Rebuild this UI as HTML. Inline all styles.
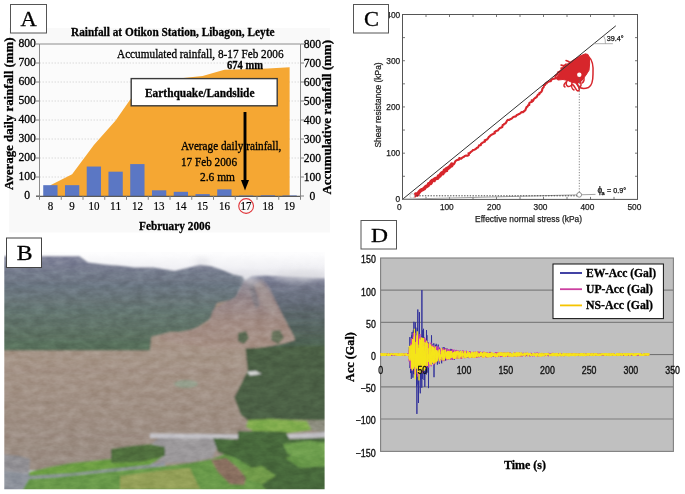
<!DOCTYPE html>
<html><head><meta charset="utf-8"><title>Figure</title>
<style>html,body{margin:0;padding:0;background:#fff;overflow:hidden} svg{display:block}</style>
</head><body>
<svg width="685" height="494" viewBox="0 0 685 494"><rect x="9" y="28" width="321" height="204.5" fill="#f9f9f9"/>
<rect x="39.5" y="44.0" width="261.0" height="152.0" fill="#fbfbfb"/>
<line x1="39.5" y1="177.00" x2="300.5" y2="177.00" stroke="#dadada" stroke-width="1" stroke-dasharray="1.5 1.5"/>
<line x1="39.5" y1="158.00" x2="300.5" y2="158.00" stroke="#dadada" stroke-width="1" stroke-dasharray="1.5 1.5"/>
<line x1="39.5" y1="139.00" x2="300.5" y2="139.00" stroke="#dadada" stroke-width="1" stroke-dasharray="1.5 1.5"/>
<line x1="39.5" y1="120.00" x2="300.5" y2="120.00" stroke="#dadada" stroke-width="1" stroke-dasharray="1.5 1.5"/>
<line x1="39.5" y1="101.00" x2="300.5" y2="101.00" stroke="#dadada" stroke-width="1" stroke-dasharray="1.5 1.5"/>
<line x1="39.5" y1="82.00" x2="300.5" y2="82.00" stroke="#dadada" stroke-width="1" stroke-dasharray="1.5 1.5"/>
<line x1="39.5" y1="63.00" x2="300.5" y2="63.00" stroke="#dadada" stroke-width="1" stroke-dasharray="1.5 1.5"/>
<path d="M50.38,196.0 L50.38,185.17 L72.12,174.34 L93.88,144.89 L115.62,120.57 L137.38,89.22 L159.12,82.57 L180.88,78.20 L202.62,75.92 L224.38,69.84 L246.12,69.27 L267.88,68.51 L289.62,67.18 L289.62,196.0 Z" fill="#f5a733"/>
<rect x="43.23" y="185.17" width="14.3" height="10.83" fill="#5b77c4"/>
<rect x="64.97" y="185.17" width="14.3" height="10.83" fill="#5b77c4"/>
<rect x="86.72" y="166.55" width="14.3" height="29.45" fill="#5b77c4"/>
<rect x="108.47" y="171.68" width="14.3" height="24.32" fill="#5b77c4"/>
<rect x="130.22" y="164.08" width="14.3" height="31.92" fill="#5b77c4"/>
<rect x="151.97" y="190.30" width="14.3" height="5.70" fill="#5b77c4"/>
<rect x="173.72" y="191.82" width="14.3" height="4.18" fill="#5b77c4"/>
<rect x="195.47" y="194.10" width="14.3" height="1.90" fill="#5b77c4"/>
<rect x="217.22" y="189.35" width="14.3" height="6.65" fill="#5b77c4"/>
<rect x="238.97" y="195.51" width="14.3" height="0.49" fill="#5b77c4"/>
<rect x="260.73" y="195.24" width="14.3" height="0.76" fill="#5b77c4"/>
<rect x="282.48" y="195.43" width="14.3" height="0.57" fill="#5b77c4"/>
<path d="M39.5,44.0 L300.5,44.0 M39.5,44.0 L39.5,196.5 M300.5,44.0 L300.5,196.5" stroke="#8c8c8c" stroke-width="1" fill="none"/>
<line x1="36.0" y1="196.3" x2="300.5" y2="196.3" stroke="#5a5a5a" stroke-width="1.3"/>
<path d="M36.0,196.00 L39.5,196.00 M300.5,196.00 L304.0,196.00 M36.0,177.00 L39.5,177.00 M300.5,177.00 L304.0,177.00 M36.0,158.00 L39.5,158.00 M300.5,158.00 L304.0,158.00 M36.0,139.00 L39.5,139.00 M300.5,139.00 L304.0,139.00 M36.0,120.00 L39.5,120.00 M300.5,120.00 L304.0,120.00 M36.0,101.00 L39.5,101.00 M300.5,101.00 L304.0,101.00 M36.0,82.00 L39.5,82.00 M300.5,82.00 L304.0,82.00 M36.0,63.00 L39.5,63.00 M300.5,63.00 L304.0,63.00 M36.0,44.00 L39.5,44.00 M300.5,44.00 L304.0,44.00 M39.50,196.0 L39.50,199.8 M61.25,196.0 L61.25,199.8 M83.00,196.0 L83.00,199.8 M104.75,196.0 L104.75,199.8 M126.50,196.0 L126.50,199.8 M148.25,196.0 L148.25,199.8 M170.00,196.0 L170.00,199.8 M191.75,196.0 L191.75,199.8 M213.50,196.0 L213.50,199.8 M235.25,196.0 L235.25,199.8 M257.00,196.0 L257.00,199.8 M278.75,196.0 L278.75,199.8 M300.50,196.0 L300.50,199.8 " stroke="#808080" stroke-width="1" fill="none"/>
<text x="27.20" y="199.20" font-family="'Liberation Serif','Times New Roman',serif" font-size="12" fill="#000" stroke="#000" stroke-width="0.3" text-anchor="middle" textLength="5.8" lengthAdjust="spacingAndGlyphs" >0</text>
<text x="312.40" y="199.50" font-family="'Liberation Serif','Times New Roman',serif" font-size="12" fill="#000" stroke="#000" stroke-width="0.3" text-anchor="middle" textLength="5.8" lengthAdjust="spacingAndGlyphs" >0</text>
<text x="27.20" y="180.20" font-family="'Liberation Serif','Times New Roman',serif" font-size="12" fill="#000" stroke="#000" stroke-width="0.3" text-anchor="middle" textLength="17.4" lengthAdjust="spacingAndGlyphs" >100</text>
<text x="312.40" y="180.50" font-family="'Liberation Serif','Times New Roman',serif" font-size="12" fill="#000" stroke="#000" stroke-width="0.3" text-anchor="middle" textLength="17.4" lengthAdjust="spacingAndGlyphs" >100</text>
<text x="27.20" y="161.20" font-family="'Liberation Serif','Times New Roman',serif" font-size="12" fill="#000" stroke="#000" stroke-width="0.3" text-anchor="middle" textLength="17.4" lengthAdjust="spacingAndGlyphs" >200</text>
<text x="312.40" y="161.50" font-family="'Liberation Serif','Times New Roman',serif" font-size="12" fill="#000" stroke="#000" stroke-width="0.3" text-anchor="middle" textLength="17.4" lengthAdjust="spacingAndGlyphs" >200</text>
<text x="27.20" y="142.20" font-family="'Liberation Serif','Times New Roman',serif" font-size="12" fill="#000" stroke="#000" stroke-width="0.3" text-anchor="middle" textLength="17.4" lengthAdjust="spacingAndGlyphs" >300</text>
<text x="312.40" y="142.50" font-family="'Liberation Serif','Times New Roman',serif" font-size="12" fill="#000" stroke="#000" stroke-width="0.3" text-anchor="middle" textLength="17.4" lengthAdjust="spacingAndGlyphs" >300</text>
<text x="27.20" y="123.20" font-family="'Liberation Serif','Times New Roman',serif" font-size="12" fill="#000" stroke="#000" stroke-width="0.3" text-anchor="middle" textLength="17.4" lengthAdjust="spacingAndGlyphs" >400</text>
<text x="312.40" y="123.50" font-family="'Liberation Serif','Times New Roman',serif" font-size="12" fill="#000" stroke="#000" stroke-width="0.3" text-anchor="middle" textLength="17.4" lengthAdjust="spacingAndGlyphs" >400</text>
<text x="27.20" y="104.20" font-family="'Liberation Serif','Times New Roman',serif" font-size="12" fill="#000" stroke="#000" stroke-width="0.3" text-anchor="middle" textLength="17.4" lengthAdjust="spacingAndGlyphs" >500</text>
<text x="312.40" y="104.50" font-family="'Liberation Serif','Times New Roman',serif" font-size="12" fill="#000" stroke="#000" stroke-width="0.3" text-anchor="middle" textLength="17.4" lengthAdjust="spacingAndGlyphs" >500</text>
<text x="27.20" y="85.20" font-family="'Liberation Serif','Times New Roman',serif" font-size="12" fill="#000" stroke="#000" stroke-width="0.3" text-anchor="middle" textLength="17.4" lengthAdjust="spacingAndGlyphs" >600</text>
<text x="312.40" y="85.50" font-family="'Liberation Serif','Times New Roman',serif" font-size="12" fill="#000" stroke="#000" stroke-width="0.3" text-anchor="middle" textLength="17.4" lengthAdjust="spacingAndGlyphs" >600</text>
<text x="27.20" y="66.20" font-family="'Liberation Serif','Times New Roman',serif" font-size="12" fill="#000" stroke="#000" stroke-width="0.3" text-anchor="middle" textLength="17.4" lengthAdjust="spacingAndGlyphs" >700</text>
<text x="312.40" y="66.50" font-family="'Liberation Serif','Times New Roman',serif" font-size="12" fill="#000" stroke="#000" stroke-width="0.3" text-anchor="middle" textLength="17.4" lengthAdjust="spacingAndGlyphs" >700</text>
<text x="27.20" y="47.20" font-family="'Liberation Serif','Times New Roman',serif" font-size="12" fill="#000" stroke="#000" stroke-width="0.3" text-anchor="middle" textLength="17.4" lengthAdjust="spacingAndGlyphs" >800</text>
<text x="312.40" y="47.50" font-family="'Liberation Serif','Times New Roman',serif" font-size="12" fill="#000" stroke="#000" stroke-width="0.3" text-anchor="middle" textLength="17.4" lengthAdjust="spacingAndGlyphs" >800</text>
<text x="50.38" y="209.60" font-family="'Liberation Serif','Times New Roman',serif" font-size="12.4" fill="#000" stroke="#000" stroke-width="0.2" text-anchor="middle" textLength="5.5" lengthAdjust="spacingAndGlyphs" >8</text>
<text x="72.12" y="209.60" font-family="'Liberation Serif','Times New Roman',serif" font-size="12.4" fill="#000" stroke="#000" stroke-width="0.2" text-anchor="middle" textLength="5.5" lengthAdjust="spacingAndGlyphs" >9</text>
<text x="93.88" y="209.60" font-family="'Liberation Serif','Times New Roman',serif" font-size="12.4" fill="#000" stroke="#000" stroke-width="0.2" text-anchor="middle" textLength="11.0" lengthAdjust="spacingAndGlyphs" >10</text>
<text x="115.62" y="209.60" font-family="'Liberation Serif','Times New Roman',serif" font-size="12.4" fill="#000" stroke="#000" stroke-width="0.2" text-anchor="middle" textLength="11.0" lengthAdjust="spacingAndGlyphs" >11</text>
<text x="137.38" y="209.60" font-family="'Liberation Serif','Times New Roman',serif" font-size="12.4" fill="#000" stroke="#000" stroke-width="0.2" text-anchor="middle" textLength="11.0" lengthAdjust="spacingAndGlyphs" >12</text>
<text x="159.12" y="209.60" font-family="'Liberation Serif','Times New Roman',serif" font-size="12.4" fill="#000" stroke="#000" stroke-width="0.2" text-anchor="middle" textLength="11.0" lengthAdjust="spacingAndGlyphs" >13</text>
<text x="180.88" y="209.60" font-family="'Liberation Serif','Times New Roman',serif" font-size="12.4" fill="#000" stroke="#000" stroke-width="0.2" text-anchor="middle" textLength="11.0" lengthAdjust="spacingAndGlyphs" >14</text>
<text x="202.62" y="209.60" font-family="'Liberation Serif','Times New Roman',serif" font-size="12.4" fill="#000" stroke="#000" stroke-width="0.2" text-anchor="middle" textLength="11.0" lengthAdjust="spacingAndGlyphs" >15</text>
<text x="224.38" y="209.60" font-family="'Liberation Serif','Times New Roman',serif" font-size="12.4" fill="#000" stroke="#000" stroke-width="0.2" text-anchor="middle" textLength="11.0" lengthAdjust="spacingAndGlyphs" >16</text>
<text x="246.12" y="209.60" font-family="'Liberation Serif','Times New Roman',serif" font-size="12.4" fill="#000" stroke="#000" stroke-width="0.2" text-anchor="middle" textLength="11.0" lengthAdjust="spacingAndGlyphs" >17</text>
<text x="267.88" y="209.60" font-family="'Liberation Serif','Times New Roman',serif" font-size="12.4" fill="#000" stroke="#000" stroke-width="0.2" text-anchor="middle" textLength="11.0" lengthAdjust="spacingAndGlyphs" >18</text>
<text x="289.62" y="209.60" font-family="'Liberation Serif','Times New Roman',serif" font-size="12.4" fill="#000" stroke="#000" stroke-width="0.2" text-anchor="middle" textLength="11.0" lengthAdjust="spacingAndGlyphs" >19</text>
<circle cx="246.12" cy="206" r="7.4" fill="none" stroke="#e0353a" stroke-width="1.1"/>
<text x="139.00" y="230.00" font-family="'Liberation Serif','Times New Roman',serif" font-size="12.6" fill="#000" stroke="#000" stroke-width="0.3" font-weight="bold" textLength="71.4" lengthAdjust="spacingAndGlyphs" >February 2006</text>
<text x="71.00" y="36.00" font-family="'Liberation Serif','Times New Roman',serif" font-size="12.4" fill="#000" stroke="#000" stroke-width="0.3" font-weight="bold" textLength="203.4" lengthAdjust="spacingAndGlyphs" >Rainfall at Otikon Station, Libagon, Leyte</text>
<text x="12.60" y="190.00" font-family="'Liberation Serif','Times New Roman',serif" font-size="12.6" fill="#000" stroke="#000" stroke-width="0.3" font-weight="bold" textLength="152.5" lengthAdjust="spacingAndGlyphs" transform="rotate(-90 12.60 190.00)" >Average daily rainfall (mm)</text>
<text x="331.00" y="194.60" font-family="'Liberation Serif','Times New Roman',serif" font-size="12.6" fill="#000" stroke="#000" stroke-width="0.3" font-weight="bold" textLength="154.6" lengthAdjust="spacingAndGlyphs" transform="rotate(-90 331.00 194.60)" >Accumulative rainfall (mm)</text>
<text x="117.00" y="57.60" font-family="'Liberation Serif','Times New Roman',serif" font-size="12.2" fill="#000" stroke="#000" stroke-width="0.3" textLength="166.6" lengthAdjust="spacingAndGlyphs" >Accumulated rainfall, 8-17 Feb 2006</text>
<text x="227.00" y="69.00" font-family="'Liberation Serif','Times New Roman',serif" font-size="12.2" fill="#000" stroke="#000" stroke-width="0.3" font-weight="bold" textLength="36" lengthAdjust="spacingAndGlyphs" >674 mm</text>
<rect x="131.2" y="78.6" width="146" height="27.2" fill="#fff" stroke="#3a3a3a" stroke-width="1.4"/>
<text x="145.00" y="97.40" font-family="'Liberation Serif','Times New Roman',serif" font-size="12.8" fill="#000" stroke="#000" stroke-width="0.3" font-weight="bold" textLength="109.5" lengthAdjust="spacingAndGlyphs" >Earthquake/Landslide</text>
<line x1="245" y1="112" x2="245" y2="182" stroke="#000" stroke-width="2.9"/>
<path d="M241,180 L249,180 L245,190.5 Z" fill="#000"/>
<text x="181.00" y="150.00" font-family="'Liberation Serif','Times New Roman',serif" font-size="11.6" fill="#000" stroke="#000" stroke-width="0.3" textLength="100.4" lengthAdjust="spacingAndGlyphs" >Average daily rainfall,</text>
<text x="181.00" y="165.60" font-family="'Liberation Serif','Times New Roman',serif" font-size="11.6" fill="#000" stroke="#000" stroke-width="0.3" textLength="56" lengthAdjust="spacingAndGlyphs" >17 Feb 2006</text>
<text x="200.00" y="181.00" font-family="'Liberation Serif','Times New Roman',serif" font-size="11.6" fill="#000" stroke="#000" stroke-width="0.3" textLength="35" lengthAdjust="spacingAndGlyphs" >2.6 mm</text>
<rect x="10.5" y="4.5" width="36" height="28.5" fill="#fff" stroke="#555" stroke-width="1"/>
<text x="28.70" y="26.00" font-family="'Liberation Serif','Times New Roman',serif" font-size="21" fill="#000" stroke="#000" stroke-width="0.3" text-anchor="middle" textLength="16.2" lengthAdjust="spacingAndGlyphs" >A</text>
<rect x="402.5" y="14.5" width="235.0" height="184.9" fill="#fff" stroke="#555" stroke-width="1"/>
<path d="M426.00,199.4 L426.00,196.9 M426.00,14.5 L426.00,17.0 M449.50,199.4 L449.50,196.9 M449.50,14.5 L449.50,17.0 M473.00,199.4 L473.00,196.9 M473.00,14.5 L473.00,17.0 M496.50,199.4 L496.50,196.9 M496.50,14.5 L496.50,17.0 M520.00,199.4 L520.00,196.9 M520.00,14.5 L520.00,17.0 M543.50,199.4 L543.50,196.9 M543.50,14.5 L543.50,17.0 M567.00,199.4 L567.00,196.9 M567.00,14.5 L567.00,17.0 M590.50,199.4 L590.50,196.9 M590.50,14.5 L590.50,17.0 M614.00,199.4 L614.00,196.9 M614.00,14.5 L614.00,17.0 M402.5,176.29 L405.0,176.29 M637.5,176.29 L635.0,176.29 M402.5,153.18 L405.0,153.18 M637.5,153.18 L635.0,153.18 M402.5,130.06 L405.0,130.06 M637.5,130.06 L635.0,130.06 M402.5,106.95 L405.0,106.95 M637.5,106.95 L635.0,106.95 M402.5,83.84 L405.0,83.84 M637.5,83.84 L635.0,83.84 M402.5,60.72 L405.0,60.72 M637.5,60.72 L635.0,60.72 M402.5,37.61 L405.0,37.61 M637.5,37.61 L635.0,37.61 " stroke="#555" stroke-width="0.8" fill="none"/>
<text x="400.20" y="202.40" font-family="'Liberation Sans',Arial,sans-serif" font-size="8.3" fill="#222" stroke="#222" stroke-width="0.25" text-anchor="end" >0</text>
<text x="400.20" y="156.18" font-family="'Liberation Sans',Arial,sans-serif" font-size="8.3" fill="#222" stroke="#222" stroke-width="0.25" text-anchor="end" >100</text>
<text x="400.20" y="109.95" font-family="'Liberation Sans',Arial,sans-serif" font-size="8.3" fill="#222" stroke="#222" stroke-width="0.25" text-anchor="end" >200</text>
<text x="400.20" y="63.72" font-family="'Liberation Sans',Arial,sans-serif" font-size="8.3" fill="#222" stroke="#222" stroke-width="0.25" text-anchor="end" >300</text>
<text x="400.20" y="17.50" font-family="'Liberation Sans',Arial,sans-serif" font-size="8.3" fill="#222" stroke="#222" stroke-width="0.25" text-anchor="end" >400</text>
<text x="399.20" y="210.00" font-family="'Liberation Sans',Arial,sans-serif" font-size="8.3" fill="#222" stroke="#222" stroke-width="0.25" text-anchor="middle" >0</text>
<text x="446.80" y="210.00" font-family="'Liberation Sans',Arial,sans-serif" font-size="8.3" fill="#222" stroke="#222" stroke-width="0.25" text-anchor="middle" >100</text>
<text x="494.00" y="210.00" font-family="'Liberation Sans',Arial,sans-serif" font-size="8.3" fill="#222" stroke="#222" stroke-width="0.25" text-anchor="middle" >200</text>
<text x="540.50" y="210.00" font-family="'Liberation Sans',Arial,sans-serif" font-size="8.3" fill="#222" stroke="#222" stroke-width="0.25" text-anchor="middle" >300</text>
<text x="587.40" y="210.00" font-family="'Liberation Sans',Arial,sans-serif" font-size="8.3" fill="#222" stroke="#222" stroke-width="0.25" text-anchor="middle" >400</text>
<text x="634.40" y="210.00" font-family="'Liberation Sans',Arial,sans-serif" font-size="8.3" fill="#222" stroke="#222" stroke-width="0.25" text-anchor="middle" >500</text>
<rect x="353.5" y="4.5" width="35" height="28.5" fill="#fff" stroke="#555" stroke-width="1"/>
<text x="371.40" y="26.40" font-family="'Liberation Serif','Times New Roman',serif" font-size="21" fill="#000" stroke="#000" stroke-width="0.3" text-anchor="middle" textLength="15.0" lengthAdjust="spacingAndGlyphs" >C</text>
<text x="528.50" y="222.00" font-family="'Liberation Sans',Arial,sans-serif" font-size="8.4" fill="#222" stroke="#222" stroke-width="0.25" text-anchor="middle" >Effective normal stress (kPa)</text>
<text x="381.00" y="105.00" font-family="'Liberation Sans',Arial,sans-serif" font-size="8.4" fill="#222" stroke="#222" stroke-width="0.25" text-anchor="middle" transform="rotate(-90 381.00 105.00)" >Shear resistance (kPa)</text>
<path d="M414.4,195.6 L414.8,195.7 L415.5,194.9 L415.8,194.0 L417.4,194.8 L419.0,192.2 L419.9,191.2 L420.6,190.5 L422.3,189.7 L423.5,188.9 L424.2,188.8 L425.4,187.0 L426.1,186.6 L428.1,185.4 L428.2,185.2 L428.8,183.8 L430.6,183.5 L431.2,182.7 L430.8,182.1 L432.6,180.2 L434.1,180.5 L434.7,178.9 L435.9,178.6 L437.5,178.3 L437.9,177.7 L438.6,176.0 L439.9,175.9 L440.5,174.6 L441.7,173.0 L442.8,173.6 L442.7,172.6 L444.0,172.0 L444.4,170.4 L446.6,170.5 L446.3,168.9 L448.3,168.0 L449.8,166.9 L450.2,166.1 L451.7,165.7 L451.8,164.1" fill="none" stroke="#d7262c" stroke-width="3.6" stroke-linejoin="round" stroke-linecap="round"/>
<path d="M414.4,195.6 L414.8,195.7 L415.5,194.9 L415.8,194.0 L417.4,194.8 L419.0,192.2 L419.9,191.2 L420.6,190.5 L422.3,189.7 L423.5,188.9 L424.2,188.8 L425.4,187.0 L426.1,186.6 L428.1,185.4 L428.2,185.2 L428.8,183.8 L430.6,183.5 L431.2,182.7 L430.8,182.1 L432.6,180.2 L434.1,180.5 L434.7,178.9 L435.9,178.6 L437.5,178.3 L437.9,177.7 L438.6,176.0 L439.9,175.9 L440.5,174.6 L441.7,173.0 L442.8,173.6 L442.7,172.6 L444.0,172.0 L444.4,170.4 L446.6,170.5 L446.3,168.9 L448.3,168.0 L449.8,166.9 L450.2,166.1 L451.7,165.7 L451.8,164.1 L453.7,164.4 L454.2,163.7 L455.0,162.0 L455.4,161.1 L457.3,159.9 L457.5,159.9 L458.9,159.7 L459.3,158.0 L460.9,158.8 L462.3,157.7 L462.9,157.2 L464.0,156.8 L464.8,155.9 L466.2,155.5 L467.4,155.8 L469.0,154.8 L468.5,153.3 L470.1,152.9 L470.3,152.4 L472.8,150.5 L472.9,150.0 L474.3,149.8 L476.2,148.6 L476.6,148.0 L478.0,147.5 L478.8,145.9 L479.1,145.2 L480.8,145.1 L481.0,143.8 L482.3,142.9 L482.6,142.6 L485.1,141.5 L484.7,140.3 L485.3,140.2 L487.3,139.2 L488.0,138.4 L488.9,136.8 L489.5,136.7 L490.3,135.6 L491.3,134.9 L493.0,134.0 L493.5,133.7 L494.8,133.3 L494.5,132.1 L496.2,131.0 L497.7,130.6 L498.7,129.3 L499.8,128.3 L500.0,128.0 L500.7,127.8 L502.3,127.0 L502.7,125.0 L503.7,124.7 L504.3,123.7 L505.5,123.5 L506.1,122.4 L507.0,120.7 L507.9,119.8 L509.2,120.0 L510.3,119.2 L512.1,118.4 L512.5,117.6 L512.8,117.4 L513.9,116.8 L515.8,116.4 L516.9,114.9 L518.2,114.4 L519.0,114.1 L520.2,113.3 L521.0,112.7 L521.5,112.1 L523.0,112.1 L525.3,110.1 L525.5,109.9 L525.7,109.1 L526.6,107.0 L527.4,106.7 L528.3,105.1 L529.3,105.0 L529.2,103.3 L530.4,102.2 L532.1,101.7 L531.7,100.3 L533.1,100.8 L533.9,99.0 L535.1,98.0 L536.8,96.9 L537.0,96.3 L537.9,94.8 L539.3,94.3 L539.4,93.1 L540.0,92.9 L541.4,91.7 L542.1,90.5 L542.2,89.3 L543.0,87.7 L543.7,87.1 L544.1,85.2 L544.9,85.0 L545.6,83.4 L546.7,83.4 L547.1,82.4 L549.5,81.2 L550.8,81.2 L551.0,80.4 L551.6,79.4 L554.2,78.6 L555.3,78.4 L555.8,77.3 L555.2,75.9 L557.1,74.5 L557.3,74.1 L558.4,72.0 L559.2,72.2 L560.1,71.2 L561.8,69.8 L561.4,68.2 L562.8,68.1 L563.7,67.0 L564.2,65.8" fill="none" stroke="#d7262c" stroke-width="2.1" stroke-linejoin="round" stroke-linecap="round"/>
<path d="M556,78.5 L560,72.5 L563.2,67.5 L568,63.5 L575,59 L580,56 L585.4,53.8 L588,54.5 L589.5,58.2 L589.6,64 L589,70.3 L586,75 L583,79 L580,82 L576,83 L572,82.5 L568,80.5 L563,79.5 L558,80 Z" fill="#d7262c" stroke="#d7262c" stroke-width="1" stroke-linejoin="round"/>
<path d="M589,57 C592.5,60 593.5,66 593,74 C593,80 592.5,85.5 588.5,87.5 C584,89 580,88.5 578,85.5 C577,83 578,81 579,80" fill="none" stroke="#d7262c" stroke-width="1.5" stroke-linecap="round"/>
<path d="M569,79 C566,81 565,85 568,86.5 C571,87 572,83 574,86 C576,89 577,92 579,90.5 C580.5,88 577,85 576,83 C578,81 581,82 582,80" fill="none" stroke="#d7262c" stroke-width="1.5" stroke-linecap="round"/>
<path d="M572,83 C571,86 572,89 574,90 M566,82 C564,84 563,86 565,87" fill="none" stroke="#d7262c" stroke-width="1.5" stroke-linecap="round"/>
<path d="M580,82 C582,84 581,87 579,88" fill="none" stroke="#d7262c" stroke-width="1.5" stroke-linecap="round"/>
<path d="M566,60.5 C567.5,61 569.5,62 571,63" fill="none" stroke="#d7262c" stroke-width="1.5" stroke-linecap="round"/>
<path d="M561,65 C563,66 565.5,65.5 566,64" fill="none" stroke="#d7262c" stroke-width="1.5" stroke-linecap="round"/>
<path d="M583,76 C585,79 584,82 582,83" fill="none" stroke="#d7262c" stroke-width="1.5" stroke-linecap="round"/>
<line x1="402.4" y1="199.4" x2="615.8" y2="25.8" stroke="#333" stroke-width="1"/>
<line x1="402.4" y1="199.2" x2="595.5" y2="194.4" stroke="#999" stroke-width="0.9"/>
<line x1="416.5" y1="195.8" x2="577" y2="195.8" stroke="#333" stroke-width="0.9" stroke-dasharray="1.4 1.4"/>
<line x1="579.3" y1="77.5" x2="579.3" y2="192.4" stroke="#666" stroke-width="0.8" stroke-dasharray="1.2 1.5"/>
<circle cx="579.2" cy="194.8" r="2.4" fill="#fff" stroke="#777" stroke-width="0.8"/>
<circle cx="412.2" cy="195.9" r="2.3" fill="#fff" stroke="#bbb" stroke-width="0.7"/>
<circle cx="579.3" cy="74.7" r="2.2" fill="#fff"/>
<line x1="593.5" y1="43.7" x2="612.9" y2="43.7" stroke="#999" stroke-width="0.8"/>
<path d="M603.4,35.6 A12,12 0 0 1 605.4,43.7" fill="none" stroke="#999" stroke-width="0.8"/>
<text x="606.80" y="41.40" font-family="'Liberation Sans',Arial,sans-serif" font-size="7.2" fill="#111" stroke="#111" stroke-width="0.25" >39.4°</text>
<text x="597.40" y="192.60" font-family="'Liberation Sans',Arial,sans-serif" font-size="8.4" fill="#111" stroke="#111" stroke-width="0.25" >ϕ</text>
<text x="601.60" y="194.60" font-family="'Liberation Sans',Arial,sans-serif" font-size="5.5" fill="#111" stroke="#111" stroke-width="0.25" font-weight="bold" >a</text>
<text x="607.00" y="192.60" font-family="'Liberation Sans',Arial,sans-serif" font-size="7.2" fill="#111" stroke="#111" stroke-width="0.25" >= 0.9°</text>
<rect x="361" y="220.5" width="35.5" height="28.5" fill="#fff" stroke="#555" stroke-width="1"/>
<text x="379.40" y="241.60" font-family="'Liberation Serif','Times New Roman',serif" font-size="19" fill="#000" stroke="#000" stroke-width="0.3" text-anchor="middle" textLength="17.0" lengthAdjust="spacingAndGlyphs" >D</text>
<rect x="380.6" y="258.0" width="292.79999999999995" height="193.39999999999998" fill="#c0c0c0"/>
<path d="M380.6,290.13 L673.4,290.13 M380.6,322.37 L673.4,322.37 M380.6,386.83 L673.4,386.83 M380.6,419.07 L673.4,419.07 " stroke="#7f7f7f" stroke-width="1.1" fill="none"/>
<rect x="380.6" y="258.0" width="292.79999999999995" height="193.39999999999998" fill="none" stroke="#7f7f7f" stroke-width="1.1"/>
<line x1="380.6" y1="354.60" x2="673.4" y2="354.60" stroke="#6a6a6a" stroke-width="1"/>
<path d="M380.6,355.1 380.7,354.6 380.9,354.6 381.0,355.5 381.1,355.0 381.2,353.9 381.4,355.3 381.5,355.1 381.6,353.8 381.7,354.6 381.9,354.6 382.0,354.6 382.1,354.5 382.2,354.7 382.4,355.0 382.5,354.4 382.6,354.5 382.7,354.6 382.9,354.3 383.0,354.6 383.1,353.7 383.2,354.9 383.4,354.6 383.5,354.6 383.6,354.6 383.7,354.6 383.9,354.8 384.0,354.3 384.1,354.1 384.2,355.1 384.4,354.6 384.5,354.7 384.6,355.2 384.7,354.0 384.9,354.6 385.0,355.0 385.1,354.5 385.2,354.9 385.4,354.0 385.5,354.8 385.6,355.5 385.7,354.9 385.9,354.6 386.0,354.6 386.1,354.0 386.2,354.5 386.4,354.7 386.5,355.5 386.6,355.0 386.7,353.6 386.9,354.6 387.0,354.5 387.1,355.4 387.2,355.5 387.4,354.2 387.5,354.6 387.6,354.7 387.7,354.7 387.9,355.2 388.0,354.9 388.1,355.5 388.2,354.2 388.4,354.6 388.5,355.1 388.6,354.4 388.7,354.9 388.9,355.3 389.0,354.6 389.1,354.0 389.2,355.5 389.4,354.3 389.5,354.9 389.6,355.2 389.7,355.5 389.9,354.7 390.0,354.5 390.1,354.6 390.2,354.2 390.4,354.8 390.5,354.7 390.6,354.8 390.7,353.7 390.9,353.9 391.0,354.7 391.1,354.6 391.2,354.7 391.4,354.4 391.5,355.4 391.6,355.3 391.7,354.6 391.9,354.8 392.0,354.2 392.1,354.4 392.2,354.6 392.4,354.5 392.5,354.5 392.6,354.4 392.7,353.9 392.9,355.0 393.0,354.6 393.1,355.0 393.2,354.6 393.4,354.4 393.5,354.0 393.6,354.4 393.7,355.5 393.9,354.6 394.0,355.0 394.1,353.6 394.2,355.0 394.4,354.8 394.5,354.6 394.6,355.3 394.7,354.1 394.9,354.6 395.0,355.0 395.1,354.6 395.2,355.3 395.4,354.6 395.5,354.8 395.6,355.4 395.7,355.1 395.9,354.6 396.0,354.6 396.1,354.7 396.2,354.6 396.4,354.6 396.5,355.1 396.6,354.7 396.7,354.6 396.9,354.0 397.0,355.1 397.1,355.2 397.2,354.6 397.4,353.8 397.5,354.0 397.6,354.5 397.7,355.3 397.9,354.3 398.0,354.5 398.1,355.0 398.2,354.6 398.4,355.4 398.5,354.3 398.6,354.5 398.7,354.3 398.9,354.4 399.0,354.7 399.1,354.4 399.2,354.8 399.4,355.0 399.5,354.6 399.6,354.6 399.7,354.7 399.9,354.6 400.0,354.6 400.1,354.8 400.2,354.6 400.4,354.6 400.5,354.5 400.6,354.7 400.7,354.3 400.9,354.6 401.0,354.6 401.1,354.5 401.2,354.6 401.4,354.8 401.5,353.7 401.6,355.2 401.7,354.7 401.9,354.6 402.0,355.5 402.1,355.0 402.2,354.3 402.4,354.4 402.5,354.6 402.6,354.0 402.8,354.4 402.9,354.7 403.0,354.6 403.1,354.7 403.3,354.4 403.4,354.6 403.5,355.0 403.6,354.1 403.8,354.5 403.9,354.4 404.0,354.6 404.1,354.4 404.3,354.6 404.4,354.6 404.5,355.3 404.6,354.6 404.8,354.3 404.9,354.5 405.0,354.3 405.1,354.6 405.3,354.1 405.4,355.1 405.5,354.1 405.6,354.6 405.8,355.2 405.9,354.6 406.0,354.6 406.1,354.6 406.3,354.2 406.4,355.0 406.5,354.6 406.6,354.6 406.8,354.6 406.9,354.6 407.0,355.1 407.1,354.6 407.3,354.2 407.4,354.9 407.5,355.6 407.6,355.3 407.8,354.6 407.9,353.7 408.0,355.4 408.1,353.6 408.3,354.6 408.4,355.1 408.5,354.6 408.6,354.9 408.8,354.5 408.9,354.6 409.0,356.3 409.1,357.1 409.3,347.1 409.4,351.2 409.5,354.7 409.6,354.8 409.8,351.8 409.9,337.1 410.0,368.1 410.1,362.7 410.3,355.4 410.4,354.6 410.5,370.7 410.6,373.1 410.8,360.3 410.9,355.2 411.0,350.6 411.1,354.1 411.3,378.9 411.4,377.4 411.5,354.7 411.6,340.1 411.8,335.3 411.9,355.7 412.0,337.7 412.1,332.1 412.3,355.0 412.4,349.1 412.5,355.8 412.6,368.6 412.8,354.3 412.9,377.7 413.0,352.5 413.1,343.3 413.3,330.4 413.4,354.7 413.5,374.1 413.6,332.4 413.8,336.7 413.9,321.8 414.0,354.1 414.1,352.1 414.3,355.7 414.4,366.5 414.5,358.6 414.6,350.0 414.8,357.1 414.9,351.4 415.0,354.6 415.1,354.7 415.3,322.3 415.4,368.1 415.5,354.6 415.6,368.7 415.8,327.5 415.9,354.6 416.0,356.8 416.1,367.7 416.3,354.1 416.4,355.2 416.5,372.3 416.6,386.5 416.8,355.3 416.9,413.9 417.0,354.6 417.1,333.4 417.3,331.8 417.4,328.1 417.5,344.6 417.6,354.6 417.8,309.5 417.9,355.2 418.0,355.2 418.1,384.5 418.3,344.8 418.4,361.0 418.5,403.0 418.6,354.6 418.8,350.3 418.9,354.8 419.0,355.9 419.1,352.7 419.3,367.9 419.4,312.1 419.5,354.1 419.6,354.6 419.8,338.2 419.9,355.0 420.0,345.9 420.1,388.2 420.3,393.3 420.4,354.1 420.5,362.3 420.6,379.8 420.8,371.5 420.9,355.6 421.0,356.5 421.1,354.4 421.3,336.6 421.4,355.7 421.5,364.9 421.6,354.3 421.8,387.7 421.9,290.1 422.0,357.0 422.1,355.3 422.3,378.9 422.4,354.5 422.5,353.8 422.6,349.5 422.8,330.2 422.9,355.8 423.0,353.1 423.1,354.7 423.3,361.5 423.4,339.3 423.5,328.8 423.6,333.7 423.8,345.6 423.9,337.0 424.0,367.5 424.1,380.0 424.3,361.9 424.4,354.9 424.5,352.5 424.7,354.7 424.8,386.8 424.9,349.8 425.0,371.9 425.2,352.9 425.3,373.9 425.4,358.8 425.5,351.6 425.7,352.8 425.8,354.9 425.9,357.0 426.0,346.6 426.2,357.6 426.3,374.4 426.4,358.5 426.5,330.1 426.7,348.0 426.8,365.5 426.9,335.2 427.0,359.8 427.2,356.5 427.3,354.4 427.4,356.4 427.5,355.1 427.7,366.1 427.8,355.0 427.9,372.7 428.0,359.0 428.2,342.5 428.3,357.0 428.4,357.2 428.5,388.1 428.7,344.8 428.8,356.5 428.9,355.1 429.0,352.5 429.2,349.9 429.3,354.2 429.4,360.5 429.5,360.3 429.7,351.3 429.8,352.8 429.9,344.8 430.0,350.7 430.2,354.7 430.3,362.4 430.4,345.5 430.5,353.1 430.7,354.5 430.8,353.4 430.9,355.0 431.0,355.4 431.2,354.5 431.3,354.6 431.4,352.9 431.5,335.3 431.7,348.4 431.8,354.9 431.9,355.0 432.0,344.3 432.2,354.9 432.3,350.5 432.4,363.5 432.5,354.6 432.7,354.6 432.8,350.4 432.9,347.5 433.0,360.2 433.2,354.3 433.3,354.2 433.4,360.2 433.5,349.7 433.7,354.6 433.8,343.3 433.9,358.7 434.0,377.2 434.2,355.5 434.3,354.1 434.4,354.4 434.5,354.6 434.7,355.5 434.8,354.6 434.9,355.0 435.0,347.8 435.2,354.6 435.3,354.6 435.4,356.5 435.5,356.6 435.7,345.0 435.8,355.5 435.9,349.1 436.0,354.4 436.2,343.8 436.3,358.8 436.4,346.0 436.5,352.2 436.7,354.5 436.8,353.4 436.9,353.2 437.0,354.6 437.2,354.2 437.3,356.9 437.4,364.6 437.5,353.9 437.7,354.6 437.8,348.3 437.9,356.1 438.0,351.3 438.2,344.6 438.3,348.7 438.4,345.9 438.5,358.5 438.7,358.3 438.8,356.7 438.9,355.0 439.0,359.8 439.2,358.6 439.3,363.7 439.4,347.7 439.5,355.0 439.7,354.3 439.8,354.6 439.9,353.1 440.0,351.9 440.2,354.8 440.3,354.6 440.4,360.0 440.5,355.6 440.7,356.6 440.8,355.4 440.9,355.2 441.0,354.5 441.2,355.1 441.3,355.2 441.4,351.5 441.5,363.0 441.7,363.3 441.8,361.1 441.9,350.7 442.0,354.3 442.2,353.5 442.3,347.7 442.4,356.5 442.5,349.2 442.7,356.1 442.8,354.6 442.9,354.0 443.0,352.4 443.2,356.0 443.3,354.6 443.4,361.0 443.5,355.5 443.7,347.3 443.8,350.0 443.9,354.5 444.0,352.7 444.2,350.1 444.3,355.1 444.4,347.6 444.5,354.6 444.7,357.5 444.8,354.6 444.9,354.5 445.0,354.0 445.2,354.1 445.3,360.6 445.4,354.3 445.5,349.8 445.7,354.2 445.8,348.2 445.9,354.6 446.0,352.5 446.2,357.7 446.3,350.7 446.4,354.6 446.6,351.2 446.7,355.1 446.8,354.4 446.9,351.9 447.1,353.9 447.2,354.4 447.3,348.7 447.4,358.7 447.6,358.4 447.7,354.6 447.8,349.3 447.9,354.1 448.1,355.1 448.2,358.1 448.3,354.6 448.4,354.6 448.6,354.6 448.7,354.4 448.8,355.4 448.9,351.4 449.1,355.3 449.2,358.0 449.3,354.9 449.4,350.2 449.6,356.9 449.7,355.4 449.8,350.5 449.9,354.9 450.1,352.3 450.2,359.4 450.3,351.4 450.4,355.7 450.6,356.5 450.7,353.7 450.8,348.9 450.9,349.8 451.1,353.6 451.2,351.0 451.3,349.1 451.4,354.6 451.6,357.0 451.7,352.3 451.8,354.7 451.9,355.0 452.1,354.6 452.2,359.3 452.3,359.7 452.4,355.4 452.6,354.5 452.7,353.7 452.8,350.2 452.9,352.9 453.1,350.6 453.2,354.4 453.3,353.8 453.4,354.5 453.6,358.0 453.7,358.4 453.8,353.6 453.9,356.0 454.1,353.3 454.2,354.6 454.3,359.7 454.4,354.6 454.6,354.6 454.7,358.0 454.8,355.4 454.9,355.0 455.1,354.8 455.2,354.1 455.3,356.4 455.4,354.6 455.6,354.5 455.7,350.9 455.8,357.1 455.9,357.8 456.1,356.0 456.2,355.7 456.3,356.4 456.4,357.8 456.6,355.8 456.7,355.6 456.8,354.6 456.9,354.4 457.1,354.8 457.2,356.3 457.3,357.4 457.4,355.3 457.6,356.2 457.7,354.6 457.8,352.4 457.9,354.1 458.1,355.8 458.2,358.4 458.3,357.8 458.4,354.6 458.6,354.8 458.7,354.3 458.8,357.4 458.9,355.3 459.1,354.3 459.2,354.6 459.3,354.6 459.4,352.1 459.6,356.9 459.7,355.8 459.8,354.6 459.9,354.6 460.1,350.7 460.2,350.7 460.3,354.6 460.4,353.8 460.6,354.2 460.7,356.5 460.8,354.5 460.9,355.0 461.1,354.8 461.2,356.2 461.3,358.6 461.4,352.9 461.6,354.1 461.7,353.9 461.8,355.0 461.9,354.6 462.1,355.9 462.2,354.5 462.3,353.1 462.4,353.7 462.6,351.8 462.7,355.2 462.8,354.2 462.9,356.5 463.1,354.6 463.2,356.7 463.3,354.6 463.4,354.6 463.6,354.8 463.7,354.8 463.8,354.2 463.9,354.6 464.1,354.6 464.2,356.6 464.3,355.0 464.4,353.1 464.6,351.3 464.7,354.7 464.8,352.8 464.9,352.8 465.1,355.5 465.2,355.1 465.3,354.3 465.4,354.9 465.6,351.7 465.7,354.7 465.8,354.1 465.9,354.2 466.1,355.5 466.2,353.0 466.3,354.8 466.4,356.5 466.6,357.4 466.7,354.6 466.8,354.5 466.9,355.1 467.1,353.3 467.2,355.1 467.3,353.2 467.4,357.6 467.6,355.1 467.7,355.9 467.8,354.6 467.9,354.8 468.1,354.7 468.2,353.2 468.3,354.6 468.5,354.5 468.6,354.7 468.7,353.6 468.8,354.6 469.0,354.1 469.1,352.5 469.2,354.5 469.3,354.6 469.5,355.1 469.6,352.5 469.7,354.0 469.8,353.7 470.0,355.3 470.1,354.6 470.2,352.9 470.3,355.2 470.5,353.6 470.6,354.6 470.7,355.3 470.8,354.7 471.0,356.7 471.1,354.4 471.2,354.2 471.3,357.4 471.5,354.9 471.6,354.0 471.7,355.5 471.8,354.6 472.0,353.7 472.1,354.6 472.2,356.1 472.3,352.7 472.5,354.1 472.6,354.6 472.7,354.8 472.8,354.6 473.0,354.7 473.1,356.1 473.2,356.1 473.3,357.0 473.5,355.7 473.6,355.1 473.7,354.5 473.8,354.6 474.0,354.6 474.1,353.6 474.2,356.4 474.3,354.7 474.5,356.5 474.6,354.6 474.7,356.5 474.8,356.7 475.0,356.2 475.1,354.7 475.2,354.0 475.3,354.9 475.5,354.2 475.6,355.2 475.7,354.9 475.8,354.6 476.0,356.5 476.1,354.6 476.2,354.6 476.3,353.7 476.5,356.7 476.6,353.8 476.7,354.6 476.8,354.6 477.0,356.8 477.1,353.2 477.2,354.9 477.3,354.6 477.5,354.6 477.6,352.9 477.7,354.6 477.8,351.9 478.0,355.2 478.1,354.4 478.2,354.6 478.3,354.6 478.5,354.5 478.6,354.6 478.7,354.8 478.8,354.5 479.0,356.3 479.1,354.6 479.2,354.6 479.3,355.2 479.5,354.6 479.6,354.4 479.7,355.9 479.8,354.9 480.0,356.5 480.1,354.6 480.2,356.3 480.3,355.1 480.5,354.6 480.6,354.6 480.7,356.8 480.8,352.6 481.0,355.1 481.1,354.5 481.2,355.2 481.3,354.6 481.5,354.7 481.6,354.8 481.7,354.6 481.8,354.6 482.0,354.6 482.1,354.4 482.2,354.9 482.3,356.1 482.5,355.0 482.6,354.8 482.7,354.6 482.8,354.6 483.0,354.8 483.1,356.0 483.2,354.6 483.3,355.9 483.5,354.6 483.6,354.4 483.7,354.5 483.8,355.5 484.0,354.7 484.1,352.8 484.2,356.1 484.3,354.4 484.5,354.6 484.6,354.5 484.7,354.6 484.8,355.8 485.0,354.6 485.1,357.0 485.2,353.5 485.3,354.0 485.5,354.7 485.6,354.6 485.7,354.6 485.8,352.4 486.0,356.5 486.1,354.8 486.2,354.6 486.3,354.0 486.5,354.3 486.6,354.6 486.7,356.8 486.8,354.5 487.0,354.6 487.1,355.8 487.2,354.5 487.3,354.6 487.5,354.8 487.6,354.9 487.7,354.6 487.8,355.0 488.0,354.6 488.1,352.9 488.2,354.6 488.3,355.0 488.5,354.6 488.6,353.2 488.7,353.6 488.8,354.4 489.0,353.3 489.1,354.2 489.2,354.4 489.3,354.6 489.5,355.5 489.6,354.3 489.7,354.5 489.8,352.7 490.0,354.8 490.1,353.5 490.2,355.1 490.4,352.9 490.5,352.4 490.6,356.3 490.7,354.7 490.9,352.4 491.0,352.7 491.1,354.5 491.2,355.6 491.4,356.7 491.5,355.0 491.6,353.0 491.7,354.0 491.9,354.6 492.0,354.2 492.1,353.4 492.2,354.8 492.4,353.6 492.5,354.9 492.6,354.7 492.7,356.3 492.9,355.4 493.0,354.6 493.1,356.5 493.2,354.6 493.4,355.3 493.5,354.3 493.6,355.6 493.7,355.1 493.9,354.9 494.0,354.6 494.1,354.0 494.2,354.2 494.4,354.3 494.5,354.5 494.6,354.6 494.7,354.7 494.9,355.2 495.0,353.7 495.1,354.6 495.2,354.5 495.4,356.0 495.5,354.7 495.6,355.7 495.7,354.7 495.9,354.3 496.0,354.7 496.1,354.5 496.2,355.6 496.4,354.6 496.5,354.6 496.6,354.6 496.7,355.0 496.9,354.4 497.0,353.6 497.1,354.0 497.2,356.3 497.4,354.6 497.5,354.7 497.6,354.6 497.7,355.8 497.9,354.3 498.0,354.6 498.1,353.2 498.2,356.4 498.4,354.6 498.5,354.6 498.6,353.9 498.7,354.3 498.9,355.2 499.0,354.8 499.1,354.3 499.2,354.6 499.4,354.9 499.5,353.3 499.6,353.9 499.7,354.7 499.9,354.6 500.0,353.3 500.1,355.0 500.2,353.5 500.4,353.6 500.5,354.4 500.6,354.5 500.7,354.5 500.9,354.6 501.0,354.6 501.1,355.1 501.2,354.6 501.4,354.5 501.5,354.6 501.6,354.5 501.7,354.6 501.9,354.1 502.0,354.4 502.1,355.7 502.2,354.2 502.4,354.8 502.5,355.8 502.6,355.5 502.7,354.7 502.9,354.6 503.0,354.7 503.1,355.1 503.2,354.2 503.4,354.7 503.5,353.8 503.6,354.9 503.7,354.5 503.9,354.7 504.0,353.9 504.1,354.5 504.2,354.5 504.4,355.6 504.5,354.3 504.6,354.7 504.7,354.3 504.9,353.9 505.0,355.5 505.1,356.2 505.2,354.3 505.4,353.1 505.5,353.6 505.6,354.6 505.7,354.0 505.9,356.1 506.0,355.9 506.1,354.6 506.2,354.6 506.4,354.0 506.5,354.9 506.6,354.6 506.7,353.0 506.9,354.8 507.0,354.6 507.1,354.6 507.2,352.9 507.4,355.1 507.5,354.5 507.6,354.6 507.7,354.6 507.9,354.9 508.0,354.6 508.1,354.6 508.2,354.6 508.4,354.6 508.5,354.5 508.6,353.9 508.7,354.6 508.9,354.6 509.0,353.2 509.1,355.2 509.2,355.9 509.4,353.6 509.5,354.8 509.6,355.3 509.7,354.6 509.9,354.7 510.0,354.7 510.1,353.9 510.2,354.8 510.4,355.3 510.5,355.0 510.6,353.4 510.7,354.6 510.9,354.7 511.0,354.2 511.1,353.5 511.2,354.6 511.4,354.1 511.5,354.8 511.6,354.7 511.7,354.6 511.9,354.9 512.0,354.8 512.1,355.1 512.3,354.8 512.4,354.0 512.5,354.2 512.6,355.4 512.8,354.7 512.9,354.4 513.0,353.9 513.1,354.6 513.3,354.4 513.4,354.9 513.5,354.2 513.6,354.1 513.8,354.6 513.9,354.9 514.0,355.9 514.1,354.6 514.3,354.6 514.4,356.2 514.5,354.6 514.6,353.5 514.8,355.9 514.9,355.3 515.0,355.7 515.1,354.6 515.3,354.6 515.4,353.9 515.5,355.7 515.6,355.0 515.8,353.5 515.9,356.0 516.0,354.8 516.1,354.6 516.3,356.1 516.4,354.8 516.5,354.6 516.6,354.6 516.8,354.6 516.9,354.5 517.0,354.6 517.1,355.9 517.3,354.5 517.4,354.6 517.5,354.9 517.6,354.6 517.8,354.9 517.9,353.9 518.0,354.8 518.1,355.1 518.3,354.2 518.4,354.3 518.5,354.0 518.6,354.5 518.8,354.6 518.9,354.6 519.0,354.6 519.1,354.6 519.3,353.5 519.4,354.8 519.5,354.3 519.6,356.0 519.8,355.0 519.9,353.5 520.0,354.8 520.1,354.6 520.3,353.7 520.4,354.5 520.5,354.6 520.6,354.5 520.8,353.3 520.9,353.5 521.0,355.1 521.1,355.2 521.3,354.8 521.4,355.2 521.5,354.3 521.6,354.1 521.8,355.2 521.9,355.6 522.0,354.7 522.1,354.5 522.3,354.3 522.4,354.6 522.5,354.5 522.6,353.7 522.8,353.9 522.9,355.3 523.0,354.4 523.1,354.3 523.3,353.8 523.4,354.6 523.5,355.1 523.6,354.6 523.8,354.6 523.9,354.6 524.0,354.2 524.1,354.5 524.3,354.5 524.4,354.5 524.5,355.2 524.6,355.6 524.8,354.6 524.9,354.0 525.0,354.5 525.1,354.3 525.3,354.6 525.4,354.3 525.5,353.2 525.6,354.4 525.8,354.0 525.9,353.4 526.0,354.4 526.1,354.2 526.3,355.5 526.4,355.7 526.5,353.7 526.6,354.9 526.8,354.7 526.9,355.2 527.0,354.6 527.1,355.8 527.3,354.2 527.4,354.7 527.5,354.4 527.6,353.8 527.8,354.5 527.9,354.6 528.0,354.6 528.1,354.0 528.3,354.5 528.4,354.8 528.5,355.9 528.6,353.9 528.8,354.6 528.9,355.6 529.0,354.6 529.1,354.6 529.3,354.7 529.4,353.9 529.5,354.8 529.6,355.2 529.8,354.7 529.9,354.7 530.0,353.9 530.1,354.5 530.3,355.2 530.4,354.6 530.5,355.3 530.6,354.5 530.8,354.1 530.9,355.4 531.0,354.6 531.1,354.8 531.3,354.7 531.4,354.4 531.5,353.4 531.6,354.8 531.8,354.6 531.9,354.7 532.0,355.5 532.1,354.6 532.3,355.1 532.4,354.5 532.5,354.4 532.6,355.2 532.8,354.6 532.9,354.9 533.0,354.4 533.1,354.7 533.3,354.5 533.4,354.5 533.5,354.6 533.6,354.9 533.8,354.1 533.9,354.7 534.0,354.3 534.2,354.6 534.3,354.6 534.4,354.5 534.5,354.7 534.7,354.4 534.8,354.6 534.9,354.4 535.0,354.5 535.2,353.6 535.3,354.6 535.4,354.7 535.5,353.3 535.7,354.6 535.8,354.6 535.9,354.5 536.0,354.8 536.2,353.6 536.3,354.4 536.4,354.5 536.5,354.7 536.7,354.2 536.8,353.8 536.9,354.3 537.0,353.8 537.2,355.3 537.3,354.4 537.4,354.0 537.5,354.6 537.7,355.4 537.8,354.6 537.9,354.8 538.0,355.7 538.2,353.7 538.3,354.2 538.4,354.6 538.5,354.4 538.7,354.5 538.8,354.6 538.9,355.2 539.0,354.7 539.2,354.6 539.3,354.6 539.4,354.7 539.5,355.2 539.7,354.7 539.8,355.0 539.9,353.8 540.0,354.9 540.2,354.6 540.3,354.6 540.4,354.8 540.5,354.6 540.7,354.6 540.8,355.5 540.9,353.7 541.0,354.6 541.2,355.1 541.3,353.5 541.4,355.0 541.5,354.4 541.7,354.6 541.8,354.8 541.9,354.6 542.0,354.6 542.2,354.6 542.3,354.8 542.4,354.6 542.5,354.6 542.7,354.5 542.8,354.9 542.9,355.6 543.0,354.2 543.2,355.4 543.3,354.6 543.4,354.6 543.5,353.5 543.7,355.0 543.8,354.0 543.9,355.2 544.0,355.0 544.2,354.5 544.3,355.0 544.4,354.6 544.5,354.5 544.7,355.2 544.8,354.3 544.9,354.6 545.0,353.6 545.2,355.7 545.3,355.4 545.4,354.6 545.5,354.8 545.7,354.6 545.8,353.9 545.9,354.7 546.0,355.5 546.2,355.1 546.3,354.6 546.4,354.3 546.5,354.4 546.7,354.6 546.8,354.8 546.9,355.2 547.0,354.9 547.2,354.9 547.3,353.9 547.4,354.6 547.5,355.2 547.7,354.6 547.8,354.6 547.9,355.6 548.0,353.5 548.2,353.7 548.3,354.8 548.4,354.2 548.5,354.6 548.7,354.5 548.8,354.5 548.9,354.4 549.0,354.6 549.2,355.1 549.3,354.3 549.4,354.6 549.5,354.6 549.7,354.4 549.8,354.5 549.9,353.5 550.0,354.6 550.2,354.6 550.3,355.3 550.4,355.2 550.5,354.8 550.7,354.7 550.8,354.6 550.9,354.8 551.0,353.8 551.2,354.6 551.3,354.6 551.4,353.9 551.5,354.3 551.7,354.4 551.8,353.9 551.9,354.4 552.0,354.7 552.2,353.7 552.3,355.6 552.4,354.0 552.5,354.6 552.7,354.7 552.8,354.6 552.9,354.6 553.0,354.1 553.2,354.3 553.3,354.4 553.4,354.8 553.5,354.6 553.7,355.4 553.8,354.4 553.9,355.5 554.0,354.6 554.2,355.1 554.3,354.1 554.4,353.9 554.5,354.7 554.7,354.1 554.8,355.0 554.9,354.5 555.0,354.8 555.2,354.6 555.3,354.6 555.4,354.6 555.5,354.9 555.7,354.6 555.8,354.3 555.9,353.5 556.1,354.7 556.2,354.8 556.3,355.3 556.4,354.9 556.6,355.6 556.7,354.8 556.8,354.5 556.9,355.2 557.1,354.6 557.2,354.7 557.3,354.8 557.4,354.6 557.6,354.6 557.7,354.6 557.8,355.2 557.9,354.6 558.1,354.0 558.2,355.7 558.3,355.3 558.4,354.6 558.6,354.7 558.7,354.8 558.8,353.5 558.9,354.7 559.1,353.9 559.2,354.6 559.3,355.6 559.4,354.8 559.6,355.3 559.7,354.6 559.8,353.9 559.9,355.4 560.1,355.6 560.2,355.6 560.3,354.7 560.4,355.0 560.6,353.7 560.7,354.4 560.8,353.8 560.9,354.6 561.1,354.2 561.2,354.5 561.3,354.7 561.4,354.5 561.6,354.7 561.7,354.6 561.8,354.2 561.9,354.8 562.1,355.0 562.2,354.2 562.3,354.6 562.4,355.0 562.6,354.7 562.7,354.7 562.8,354.0 562.9,354.6 563.1,353.9 563.2,354.6 563.3,353.8 563.4,353.9 563.6,354.6 563.7,354.3 563.8,354.7 563.9,355.2 564.1,354.6 564.2,355.4 564.3,354.6 564.4,354.6 564.6,354.4 564.7,354.0 564.8,354.9 564.9,354.1 565.1,354.6 565.2,354.6 565.3,354.6 565.4,354.2 565.6,354.7 565.7,355.7 565.8,354.2 565.9,354.5 566.1,354.5 566.2,355.1 566.3,354.9 566.4,354.6 566.6,354.4 566.7,354.5 566.8,354.6 566.9,354.5 567.1,355.0 567.2,354.6 567.3,354.7 567.4,354.4 567.6,354.6 567.7,354.5 567.8,354.5 567.9,354.0 568.1,354.1 568.2,355.4 568.3,354.5 568.4,354.6 568.6,355.2 568.7,354.6 568.8,354.2 568.9,354.3 569.1,355.2 569.2,354.9 569.3,354.5 569.4,353.7 569.6,355.3 569.7,355.3 569.8,354.5 569.9,354.6 570.1,354.3 570.2,354.9 570.3,354.6 570.4,354.3 570.6,354.6 570.7,354.6 570.8,355.5 570.9,354.3 571.1,354.6 571.2,354.6 571.3,354.5 571.4,354.2 571.6,354.1 571.7,354.7 571.8,354.6 571.9,354.6 572.1,354.2 572.2,354.3 572.3,354.5 572.4,354.3 572.6,354.6 572.7,354.6 572.8,355.0 572.9,354.5 573.1,354.7 573.2,354.6 573.3,355.7 573.4,354.6 573.6,354.6 573.7,354.6 573.8,354.6 573.9,354.8 574.1,354.5 574.2,354.5 574.3,354.6 574.4,354.6 574.6,355.0 574.7,354.6 574.8,355.4 574.9,353.9 575.1,354.6 575.2,354.7 575.3,354.6 575.4,355.2 575.6,354.1 575.7,353.6 575.8,354.3 575.9,354.6 576.1,353.8 576.2,354.7 576.3,354.6 576.4,355.0 576.6,354.6 576.7,353.9 576.8,354.5 576.9,354.6 577.1,354.6 577.2,354.6 577.3,354.6 577.4,354.6 577.6,354.6 577.7,355.2 577.8,354.6 578.0,354.5 578.1,354.8 578.2,354.7 578.3,354.3 578.5,355.1 578.6,354.9 578.7,354.3 578.8,355.1 579.0,354.7 579.1,354.0 579.2,354.6 579.3,354.3 579.5,354.4 579.6,355.5 579.7,354.8 579.8,354.0 580.0,354.7 580.1,354.6 580.2,353.9 580.3,355.2 580.5,353.7 580.6,354.6 580.7,354.6 580.8,355.6 581.0,354.6 581.1,354.3 581.2,354.6 581.3,355.3 581.5,355.1 581.6,355.3 581.7,354.6 581.8,354.3 582.0,355.4 582.1,354.6 582.2,354.6 582.3,354.6 582.5,354.6 582.6,354.6 582.7,354.9 582.8,354.3 583.0,354.6 583.1,354.6 583.2,353.7 583.3,354.5 583.5,355.0 583.6,353.7 583.7,354.6 583.8,354.7 584.0,354.8 584.1,355.3 584.2,354.8 584.3,354.7 584.5,354.7 584.6,353.6 584.7,354.6 584.8,354.9 585.0,354.6 585.1,354.6 585.2,355.2 585.3,354.6 585.5,354.6 585.6,354.0 585.7,354.6 585.8,354.5 586.0,354.5 586.1,354.9 586.2,354.6 586.3,354.6 586.5,355.0 586.6,355.5 586.7,353.6 586.8,355.2 587.0,354.1 587.1,354.6 587.2,355.3 587.3,353.7 587.5,354.5 587.6,354.6 587.7,354.2 587.8,354.5 588.0,354.6 588.1,354.5 588.2,354.5 588.3,354.9 588.5,354.5 588.6,354.0 588.7,354.5 588.8,354.3 589.0,353.6 589.1,354.3 589.2,354.6 589.3,354.6 589.5,354.4 589.6,354.6 589.7,355.3 589.8,355.3 590.0,354.7 590.1,354.3 590.2,354.8 590.3,354.7 590.5,354.3 590.6,355.1 590.7,354.7 590.8,354.8 591.0,355.4 591.1,354.4 591.2,354.7 591.3,354.6 591.5,354.7 591.6,355.3 591.7,354.2 591.8,355.1 592.0,354.7 592.1,354.5 592.2,354.6 592.3,354.6 592.5,354.7 592.6,354.6 592.7,354.7 592.8,354.6 593.0,355.6 593.1,355.5 593.2,354.6 593.3,354.3 593.5,353.6 593.6,354.3 593.7,354.6 593.8,354.6 594.0,354.5 594.1,354.5 594.2,353.6 594.3,354.6 594.5,354.6 594.6,354.4 594.7,354.8 594.8,355.2 595.0,354.0 595.1,355.5 595.2,354.1 595.3,354.0 595.5,355.0 595.6,354.4 595.7,354.7 595.8,354.7 596.0,353.7 596.1,354.1 596.2,354.4 596.3,354.6 596.5,353.7 596.6,354.6 596.7,353.7 596.8,354.5 597.0,355.4 597.1,354.3 597.2,354.2 597.3,354.1 597.5,354.6 597.6,355.4 597.7,354.1 597.8,354.6 598.0,354.9 598.1,354.8 598.2,354.9 598.3,354.3 598.5,355.3 598.6,354.0 598.7,355.5 598.8,354.5 599.0,354.8 599.1,354.6 599.2,354.9 599.3,354.0 599.5,355.0 599.6,354.6 599.7,354.6 599.9,354.6 600.0,354.8 600.1,354.7 600.2,353.9 600.4,355.1 600.5,355.5 600.6,354.0 600.7,354.1 600.9,354.5 601.0,354.6 601.1,353.8 601.2,354.6 601.4,355.5 601.5,354.6 601.6,354.6 601.7,354.6 601.9,354.1 602.0,355.3 602.1,354.2 602.2,354.6 602.4,354.5 602.5,354.6 602.6,354.7 602.7,354.7 602.9,354.7 603.0,354.6 603.1,354.6 603.2,354.3 603.4,354.9 603.5,354.6 603.6,354.6 603.7,354.3 603.9,354.5 604.0,354.6 604.1,354.5 604.2,354.6 604.4,354.3 604.5,354.2 604.6,354.6 604.7,355.1 604.9,354.6 605.0,354.7 605.1,354.9 605.2,354.7 605.4,354.3 605.5,354.6 605.6,354.6 605.7,354.6 605.9,354.9 606.0,354.6 606.1,354.6 606.2,353.9 606.4,354.6 606.5,353.7 606.6,354.2 606.7,354.6 606.9,355.5 607.0,354.8 607.1,355.1 607.2,354.5 607.4,355.0 607.5,354.6 607.6,354.7 607.7,354.6 607.9,354.4 608.0,354.7 608.1,354.9 608.2,354.7 608.4,353.9 608.5,354.6 608.6,354.7 608.7,355.0 608.9,355.3 609.0,354.7 609.1,354.6 609.2,354.6 609.4,354.3 609.5,353.6 609.6,354.6 609.7,354.6 609.9,354.3 610.0,355.2 610.1,354.4 610.2,354.1 610.4,354.4 610.5,355.2 610.6,354.6 610.7,354.3 610.9,354.6 611.0,354.2 611.1,355.0 611.2,354.6 611.4,354.6 611.5,354.4 611.6,354.6 611.7,354.8 611.9,354.5 612.0,355.1 612.1,354.6 612.2,354.6 612.4,354.4 612.5,354.6 612.6,354.6 612.7,354.5 612.9,354.5 613.0,353.8 613.1,354.6 613.2,354.6 613.4,355.5 613.5,354.9 613.6,354.8 613.7,354.8 613.9,354.6 614.0,354.9 614.1,354.6 614.2,354.3 614.4,355.3 614.5,354.8 614.6,354.6 614.7,355.4 614.9,355.0 615.0,354.6 615.1,354.6 615.2,354.0 615.4,354.6 615.5,354.4 615.6,354.6 615.7,354.6 615.9,354.2 616.0,354.6 616.1,354.0 616.2,354.8 616.4,355.1 616.5,354.5 616.6,355.1 616.7,355.2 616.9,354.6 617.0,354.5 617.1,354.6 617.2,354.4 617.4,354.6 617.5,354.7 617.6,354.6 617.7,354.6 617.9,355.0 618.0,354.6 618.1,354.9 618.2,353.8 618.4,354.6 618.5,354.9 618.6,355.4 618.7,354.8 618.9,354.7 619.0,354.6 619.1,354.5 619.2,354.5 619.4,354.6 619.5,354.6 619.6,354.6 619.7,354.7 619.9,354.8 620.0,354.6 620.1,354.5 620.2,355.0 620.4,354.6 620.5,355.5 620.6,354.9 620.7,354.5 620.9,354.3 621.0,354.4 621.1,354.5 621.2,354.8 621.4,353.7 621.5,354.6 621.6,354.0 621.8,353.9 621.9,354.8 622.0,353.8 622.1,355.2 622.3,354.6 622.4,354.8 622.5,355.2 622.6,354.6 622.8,354.8 622.9,354.4 623.0,354.6 623.1,354.7 623.3,355.5 623.4,354.5 623.5,354.6 623.6,354.3 623.8,354.6 623.9,354.0 624.0,355.5 624.1,354.0 624.3,354.4 624.4,355.1 624.5,353.7 624.6,355.2 624.8,354.4 624.9,354.8 625.0,354.5 625.1,354.2 625.3,355.1 625.4,354.7 625.5,354.1 625.6,354.6 625.8,355.0 625.9,355.2 626.0,355.1 626.1,355.1 626.3,354.6 626.4,354.4 626.5,354.6 626.6,355.2 626.8,354.6 626.9,354.6 627.0,354.6 627.1,354.6 627.3,354.5 627.4,354.4 627.5,354.6 627.6,355.4 627.8,354.4 627.9,354.4 628.0,354.5 628.1,354.6 628.3,354.1 628.4,355.2 628.5,354.5 628.6,354.6 628.8,354.5 628.9,355.3 629.0,353.8 629.1,355.4 629.3,354.9 629.4,354.6 629.5,354.6 629.6,354.9 629.8,354.7 629.9,354.0 630.0,354.7 630.1,354.6 630.3,355.1 630.4,354.6 630.5,354.5 630.6,354.5 630.8,354.8 630.9,354.6 631.0,354.6 631.1,353.7 631.3,354.4 631.4,354.8 631.5,355.3 631.6,354.7 631.8,354.6 631.9,354.7 632.0,354.4 632.1,354.8 632.3,355.1 632.4,354.6 632.5,354.4 632.6,354.8 632.8,354.7 632.9,354.7 633.0,355.4 633.1,354.5 633.3,355.3 633.4,354.6 633.5,354.6 633.6,354.6 633.8,355.4 633.9,355.4 634.0,354.6 634.1,354.6 634.3,355.5 634.4,355.5 634.5,354.4 634.6,354.7 634.8,354.5 634.9,354.9 635.0,354.7 635.1,354.1 635.3,354.9 635.4,354.6 635.5,354.6 635.6,354.5 635.8,354.7 635.9,354.6 636.0,354.8 636.1,354.5 636.3,355.5 636.4,354.9 636.5,355.3 636.6,355.1 636.8,354.4 636.9,354.6 637.0,354.4 637.1,353.7 637.3,354.9 637.4,354.4 637.5,353.8 637.6,354.7 637.8,355.2 637.9,354.6 638.0,354.6 638.1,354.5 638.3,354.6 638.4,354.7 638.5,355.0 638.6,354.7 638.8,354.6 638.9,354.9 639.0,354.7 639.1,354.1 639.3,354.6 639.4,355.1 639.5,354.5 639.6,354.6 639.8,354.6 639.9,354.6 640.0,355.1 640.1,354.5 640.3,354.6 640.4,353.7 640.5,355.6 640.6,354.6 640.8,354.6 640.9,354.6 641.0,354.5 641.1,354.8 641.3,354.6 641.4,355.0 641.5,354.6 641.6,354.6 641.8,355.4 641.9,354.8 642.0,354.6 642.1,354.6 642.3,355.2 642.4,354.6 642.5,354.3 642.6,354.7 642.8,355.3 642.9,355.0 643.0,354.4 643.1,354.6 643.3,355.0 643.4,354.9 643.5,354.3 643.7,354.5 643.8,354.5 643.9,355.0 644.0,353.7 644.2,354.8 644.3,354.6 644.4,354.8 644.5,353.9 644.7,354.6 644.8,354.6 644.9,354.6 645.0,354.5 645.2,354.6 645.3,354.6 645.4,355.0 645.5,354.3 645.7,355.3 645.8,354.0 645.9,354.0 646.0,354.6 646.2,354.9 646.3,354.8 646.4,355.0 646.5,354.5 646.7,354.6 646.8,353.7 646.9,354.6 647.0,354.7 647.2,354.5 647.3,354.1 647.4,354.6 647.5,355.1 647.7,354.9 647.8,354.5 647.9,354.4 648.0,353.7 648.2,354.6 648.3,354.4 648.4,354.5 648.5,354.6 648.7,354.3 648.8,354.9 648.9,355.0 649.0,354.7 649.2,354.6" fill="none" stroke="#2e2e9a" stroke-width="0.9"/>
<path d="M380.6,355.2 380.7,353.5 380.9,355.3 381.0,355.4 381.1,354.9 381.2,355.2 381.4,354.2 381.5,355.5 381.6,353.6 381.7,353.7 381.9,355.9 382.0,354.5 382.1,355.6 382.2,355.1 382.4,354.7 382.5,354.7 382.6,354.6 382.7,353.5 382.9,355.1 383.0,355.3 383.1,354.2 383.2,353.5 383.4,353.5 383.5,353.7 383.6,355.7 383.7,353.5 383.9,354.3 384.0,353.7 384.1,354.8 384.2,355.2 384.4,353.9 384.5,354.3 384.6,354.0 384.7,355.3 384.9,355.5 385.0,354.0 385.1,355.8 385.2,353.5 385.4,355.5 385.5,354.4 385.6,354.7 385.7,355.0 385.9,355.4 386.0,354.0 386.1,353.6 386.2,354.1 386.4,354.4 386.5,354.1 386.6,354.5 386.7,354.5 386.9,353.6 387.0,355.1 387.1,355.2 387.2,353.5 387.4,353.5 387.5,354.6 387.6,353.9 387.7,354.1 387.9,353.5 388.0,355.6 388.1,353.6 388.2,354.6 388.4,354.7 388.5,354.2 388.6,354.4 388.7,354.7 388.9,355.1 389.0,353.6 389.1,353.8 389.2,355.6 389.4,354.8 389.5,354.0 389.6,353.7 389.7,353.4 389.9,355.2 390.0,353.6 390.1,354.2 390.2,355.7 390.4,355.3 390.5,355.3 390.6,355.7 390.7,354.2 390.9,355.0 391.0,354.2 391.1,355.6 391.2,353.7 391.4,354.2 391.5,354.0 391.6,354.4 391.7,354.7 391.9,355.3 392.0,353.5 392.1,355.5 392.2,354.6 392.4,355.5 392.5,355.6 392.6,354.2 392.7,353.6 392.9,354.7 393.0,353.9 393.1,353.7 393.2,354.5 393.4,354.0 393.5,355.0 393.6,355.4 393.7,355.3 393.9,355.9 394.0,355.7 394.1,354.0 394.2,353.6 394.4,355.7 394.5,354.1 394.6,354.0 394.7,354.2 394.9,354.6 395.0,354.6 395.1,354.2 395.2,355.2 395.4,354.0 395.5,355.3 395.6,355.8 395.7,353.5 395.9,355.6 396.0,355.3 396.1,355.7 396.2,355.9 396.4,355.5 396.5,353.6 396.6,354.2 396.7,354.8 396.9,355.9 397.0,353.8 397.1,354.6 397.2,353.7 397.4,354.6 397.5,355.7 397.6,355.7 397.7,353.9 397.9,355.2 398.0,355.4 398.1,354.8 398.2,355.1 398.4,355.1 398.5,353.9 398.6,354.6 398.7,353.3 398.9,355.6 399.0,355.0 399.1,353.7 399.2,354.7 399.4,354.0 399.5,354.7 399.6,354.8 399.7,353.7 399.9,355.0 400.0,354.5 400.1,354.5 400.2,355.8 400.4,355.6 400.5,355.2 400.6,355.9 400.7,354.2 400.9,354.5 401.0,354.9 401.1,354.7 401.2,355.8 401.4,354.8 401.5,353.8 401.6,355.8 401.7,354.3 401.9,354.2 402.0,355.2 402.1,355.0 402.2,355.4 402.4,354.5 402.5,354.9 402.6,355.5 402.8,355.1 402.9,355.2 403.0,353.4 403.1,354.4 403.3,354.6 403.4,354.6 403.5,354.5 403.6,353.4 403.8,354.8 403.9,355.7 404.0,355.3 404.1,355.9 404.3,355.3 404.4,354.4 404.5,355.1 404.6,353.8 404.8,353.5 404.9,355.5 405.0,353.9 405.1,354.3 405.3,353.3 405.4,355.3 405.5,354.0 405.6,354.9 405.8,355.3 405.9,355.1 406.0,353.5 406.1,354.6 406.3,354.7 406.4,353.7 406.5,353.7 406.6,353.6 406.8,355.8 406.9,353.3 407.0,354.2 407.1,353.6 407.3,353.9 407.4,353.6 407.5,353.7 407.6,354.3 407.8,355.5 407.9,354.2 408.0,355.8 408.1,354.9 408.3,355.1 408.4,355.0 408.5,353.9 408.6,353.7 408.8,353.6 408.9,354.4 409.0,350.2 409.1,361.4 409.3,357.0 409.4,349.3 409.5,355.2 409.6,354.7 409.8,348.7 409.9,360.5 410.0,346.1 410.1,349.3 410.3,365.4 410.4,356.0 410.5,343.3 410.6,360.3 410.8,369.0 410.9,363.8 411.0,353.8 411.1,366.8 411.3,369.0 411.4,366.1 411.5,344.3 411.6,338.2 411.8,367.0 411.9,353.2 412.0,349.0 412.1,370.7 412.3,340.4 412.4,345.9 412.5,348.5 412.6,355.0 412.8,343.5 412.9,341.6 413.0,362.6 413.1,365.1 413.3,332.9 413.4,354.9 413.5,357.4 413.6,335.6 413.8,346.1 413.9,345.0 414.0,342.2 414.1,340.7 414.3,347.9 414.4,332.5 414.5,342.9 414.6,341.1 414.8,341.0 414.9,374.5 415.0,332.8 415.1,344.2 415.3,372.4 415.4,346.2 415.5,346.8 415.6,354.6 415.8,361.9 415.9,353.6 416.0,368.4 416.1,358.1 416.3,350.5 416.4,346.5 416.5,353.4 416.6,338.2 416.8,338.1 416.9,337.2 417.0,351.7 417.1,364.2 417.3,374.2 417.4,352.2 417.5,354.2 417.6,376.5 417.8,369.3 417.9,334.4 418.0,345.0 418.1,337.6 418.3,360.8 418.4,356.6 418.5,352.0 418.6,357.7 418.8,374.8 418.9,355.4 419.0,348.8 419.1,359.4 419.3,336.7 419.4,336.3 419.5,374.8 419.6,357.2 419.8,351.3 419.9,357.4 420.0,334.0 420.1,361.7 420.3,338.1 420.4,359.9 420.5,338.7 420.6,371.1 420.8,340.5 420.9,340.9 421.0,352.8 421.1,361.6 421.3,358.1 421.4,369.7 421.5,362.7 421.6,354.3 421.8,354.1 421.9,355.3 422.0,339.5 422.1,365.6 422.3,343.8 422.4,340.1 422.5,359.4 422.6,372.7 422.8,342.5 422.9,346.5 423.0,354.9 423.1,338.0 423.3,362.9 423.4,346.9 423.5,350.0 423.6,357.9 423.8,345.0 423.9,369.0 424.0,360.6 424.1,354.7 424.3,337.5 424.4,346.1 424.5,370.5 424.7,351.1 424.8,366.8 424.9,357.5 425.0,338.4 425.2,361.4 425.3,367.8 425.4,340.3 425.5,363.4 425.7,352.5 425.8,361.5 425.9,340.1 426.0,347.3 426.2,345.7 426.3,367.0 426.4,358.1 426.5,343.9 426.7,360.1 426.8,366.4 426.9,344.2 427.0,360.7 427.2,352.6 427.3,363.2 427.4,365.5 427.5,354.7 427.7,351.4 427.8,347.5 427.9,342.3 428.0,354.3 428.2,350.2 428.3,359.0 428.4,343.9 428.5,358.1 428.7,367.4 428.8,361.8 428.9,363.8 429.0,351.6 429.2,363.2 429.3,355.3 429.4,358.3 429.5,347.5 429.7,359.3 429.8,360.7 429.9,359.2 430.0,361.9 430.2,351.4 430.3,354.3 430.4,350.5 430.5,363.7 430.7,347.8 430.8,354.0 430.9,343.1 431.0,342.7 431.2,366.3 431.3,352.8 431.4,359.7 431.5,350.8 431.7,362.6 431.8,353.5 431.9,349.3 432.0,353.5 432.2,358.4 432.3,349.8 432.4,345.0 432.5,358.9 432.7,362.9 432.8,356.3 432.9,356.0 433.0,356.3 433.2,345.1 433.3,359.5 433.4,363.9 433.5,364.9 433.7,354.8 433.8,358.8 433.9,354.7 434.0,351.3 434.2,357.6 434.3,361.8 434.4,346.5 434.5,360.4 434.7,357.7 434.8,364.1 434.9,353.0 435.0,359.1 435.2,350.4 435.3,355.5 435.4,348.8 435.5,357.1 435.7,349.8 435.8,362.5 435.9,356.8 436.0,357.3 436.2,355.8 436.3,359.3 436.4,357.8 436.5,346.0 436.7,362.0 436.8,354.6 436.9,347.6 437.0,355.0 437.2,355.2 437.3,354.4 437.4,360.7 437.5,359.3 437.7,351.7 437.8,353.4 437.9,358.7 438.0,354.8 438.2,346.4 438.3,359.1 438.4,350.0 438.5,347.5 438.7,354.2 438.8,359.8 438.9,354.9 439.0,350.4 439.2,352.5 439.3,349.4 439.4,354.6 439.5,362.5 439.7,362.0 439.8,350.3 439.9,354.3 440.0,348.4 440.2,349.6 440.3,352.9 440.4,353.6 440.5,350.8 440.7,359.2 440.8,356.1 440.9,352.9 441.0,354.4 441.2,359.2 441.3,356.7 441.4,359.7 441.5,350.0 441.7,358.9 441.8,352.9 441.9,359.0 442.0,359.7 442.2,361.1 442.3,356.2 442.4,350.1 442.5,349.0 442.7,354.3 442.8,349.8 442.9,352.9 443.0,348.3 443.2,358.2 443.3,357.5 443.4,357.3 443.5,350.6 443.7,348.8 443.8,351.3 443.9,348.4 444.0,361.2 444.2,358.8 444.3,358.9 444.4,356.4 444.5,355.9 444.7,355.5 444.8,358.8 444.9,354.4 445.0,353.0 445.2,350.9 445.3,358.8 445.4,348.4 445.5,357.3 445.7,355.3 445.8,349.7 445.9,358.7 446.0,355.3 446.2,356.1 446.3,359.5 446.4,360.2 446.6,357.9 446.7,354.5 446.8,360.1 446.9,357.9 447.1,349.3 447.2,354.7 447.3,356.9 447.4,348.9 447.6,352.4 447.7,356.1 447.8,350.8 447.9,360.0 448.1,356.4 448.2,349.4 448.3,354.4 448.4,359.1 448.6,359.2 448.7,349.6 448.8,355.6 448.9,350.3 449.1,357.0 449.2,353.9 449.3,357.2 449.4,350.9 449.6,351.6 449.7,349.3 449.8,354.6 449.9,352.0 450.1,359.0 450.2,353.7 450.3,352.3 450.4,352.2 450.6,356.7 450.7,359.9 450.8,353.6 450.9,352.1 451.1,354.4 451.2,357.8 451.3,355.3 451.4,357.2 451.6,350.8 451.7,353.0 451.8,353.7 451.9,352.6 452.1,349.5 452.2,349.8 452.3,359.7 452.4,359.3 452.6,349.4 452.7,355.6 452.8,352.5 452.9,355.5 453.1,351.8 453.2,352.4 453.3,356.3 453.4,352.6 453.6,359.4 453.7,359.1 453.8,354.5 453.9,350.5 454.1,349.6 454.2,359.0 454.3,356.0 454.4,358.0 454.6,351.0 454.7,355.3 454.8,356.1 454.9,355.0 455.1,355.4 455.2,354.5 455.3,358.5 455.4,358.4 455.6,356.5 455.7,358.1 455.8,350.2 455.9,357.7 456.1,351.0 456.2,356.2 456.3,349.9 456.4,357.7 456.6,354.1 456.7,353.0 456.8,359.0 456.9,354.3 457.1,354.6 457.2,352.0 457.3,355.5 457.4,354.6 457.6,359.0 457.7,353.1 457.8,350.4 457.9,352.3 458.1,352.1 458.2,352.6 458.3,356.8 458.4,350.7 458.6,358.3 458.7,354.7 458.8,351.9 458.9,352.8 459.1,356.6 459.2,356.1 459.3,354.4 459.4,355.4 459.6,357.6 459.7,356.3 459.8,352.7 459.9,354.8 460.1,354.6 460.2,357.8 460.3,358.7 460.4,351.2 460.6,351.8 460.7,354.6 460.8,353.6 460.9,353.4 461.1,354.9 461.2,357.9 461.3,358.7 461.4,352.8 461.6,352.1 461.7,358.2 461.8,352.2 461.9,358.7 462.1,351.6 462.2,354.6 462.3,354.6 462.4,350.4 462.6,352.9 462.7,354.5 462.8,351.9 462.9,354.9 463.1,356.1 463.2,352.3 463.3,352.2 463.4,353.9 463.6,356.2 463.7,350.6 463.8,352.3 463.9,357.1 464.1,353.6 464.2,354.1 464.3,358.2 464.4,353.4 464.6,357.8 464.7,353.4 464.8,353.7 464.9,351.7 465.1,356.0 465.2,354.2 465.3,353.0 465.4,358.1 465.6,356.8 465.7,354.0 465.8,351.9 465.9,355.0 466.1,351.1 466.2,350.7 466.3,355.2 466.4,355.4 466.6,353.6 466.7,353.7 466.8,351.5 466.9,356.7 467.1,351.4 467.2,354.7 467.3,355.9 467.4,355.2 467.6,356.6 467.7,355.9 467.8,352.8 467.9,355.4 468.1,351.8 468.2,353.6 468.3,355.1 468.5,355.1 468.6,354.2 468.7,354.0 468.8,355.8 469.0,358.2 469.1,354.3 469.2,355.7 469.3,352.8 469.5,351.9 469.6,355.5 469.7,355.4 469.8,351.0 470.0,352.7 470.1,352.7 470.2,356.3 470.3,351.6 470.5,354.1 470.6,354.7 470.7,356.2 470.8,353.4 471.0,352.7 471.1,355.0 471.2,352.9 471.3,353.4 471.5,356.0 471.6,353.5 471.7,357.2 471.8,354.6 472.0,354.6 472.1,353.1 472.2,353.0 472.3,354.2 472.5,358.0 472.6,357.1 472.7,354.0 472.8,352.1 473.0,357.6 473.1,352.7 473.2,354.6 473.3,353.6 473.5,357.9 473.6,355.1 473.7,351.7 473.8,356.9 474.0,356.4 474.1,355.1 474.2,354.7 474.3,357.7 474.5,357.4 474.6,354.1 474.7,358.0 474.8,356.2 475.0,356.0 475.1,356.1 475.2,351.8 475.3,356.4 475.5,353.8 475.6,356.5 475.7,351.8 475.8,353.2 476.0,356.4 476.1,354.3 476.2,354.4 476.3,357.9 476.5,352.3 476.6,356.0 476.7,353.5 476.8,357.2 477.0,354.7 477.1,355.2 477.2,353.4 477.3,355.9 477.5,357.1 477.6,355.9 477.7,357.5 477.8,351.4 478.0,355.4 478.1,352.2 478.2,354.6 478.3,351.8 478.5,354.6 478.6,356.5 478.7,356.1 478.8,355.0 479.0,357.0 479.1,353.8 479.2,357.3 479.3,354.7 479.5,354.4 479.6,351.7 479.7,354.9 479.8,352.3 480.0,354.6 480.1,354.0 480.2,352.6 480.3,354.4 480.5,351.7 480.6,352.3 480.7,355.1 480.8,353.3 481.0,356.6 481.1,356.1 481.2,352.4 481.3,355.7 481.5,352.0 481.6,356.5 481.7,354.7 481.8,356.4 482.0,353.4 482.1,353.7 482.2,355.6 482.3,356.5 482.5,351.9 482.6,353.7 482.7,354.1 482.8,353.5 483.0,357.6 483.1,356.9 483.2,352.6 483.3,355.3 483.5,353.3 483.6,352.3 483.7,351.9 483.8,351.6 484.0,352.4 484.1,355.7 484.2,353.1 484.3,353.4 484.5,355.0 484.6,352.8 484.7,354.9 484.8,356.4 485.0,354.2 485.1,356.7 485.2,352.0 485.3,356.9 485.5,355.6 485.6,355.1 485.7,356.8 485.8,355.0 486.0,354.8 486.1,357.4 486.2,357.0 486.3,354.6 486.5,355.6 486.6,352.7 486.7,357.3 486.8,352.2 487.0,356.7 487.1,357.2 487.2,354.6 487.3,352.3 487.5,354.1 487.6,356.2 487.7,354.2 487.8,354.6 488.0,357.2 488.1,354.4 488.2,353.0 488.3,353.2 488.5,355.4 488.6,355.6 488.7,354.9 488.8,354.4 489.0,356.9 489.1,356.4 489.2,356.6 489.3,354.0 489.5,354.2 489.6,352.5 489.7,355.8 489.8,355.2 490.0,351.8 490.1,355.4 490.2,354.0 490.4,356.2 490.5,353.2 490.6,356.6 490.7,352.9 490.9,355.3 491.0,353.8 491.1,353.5 491.2,355.9 491.4,355.7 491.5,357.2 491.6,354.9 491.7,354.9 491.9,354.3 492.0,356.5 492.1,355.7 492.2,355.3 492.4,353.9 492.5,355.5 492.6,353.5 492.7,354.5 492.9,353.4 493.0,353.4 493.1,355.8 493.2,353.2 493.4,355.0 493.5,353.0 493.6,354.5 493.7,353.1 493.9,354.5 494.0,356.7 494.1,354.6 494.2,356.9 494.4,353.3 494.5,352.9 494.6,356.8 494.7,353.4 494.9,354.7 495.0,353.9 495.1,354.0 495.2,355.6 495.4,353.0 495.5,357.2 495.6,352.0 495.7,354.8 495.9,352.3 496.0,356.0 496.1,352.8 496.2,355.7 496.4,352.8 496.5,353.5 496.6,352.6 496.7,353.8 496.9,356.6 497.0,356.7 497.1,353.9 497.2,353.3 497.4,352.9 497.5,353.8 497.6,352.2 497.7,355.5 497.9,355.3 498.0,356.9 498.1,352.9 498.2,355.8 498.4,353.6 498.5,354.0 498.6,353.5 498.7,354.6 498.9,356.6 499.0,352.8 499.1,352.3 499.2,356.5 499.4,352.1 499.5,354.1 499.6,353.1 499.7,352.7 499.9,353.2 500.0,354.8 500.1,353.8 500.2,356.8 500.4,355.0 500.5,354.8 500.6,357.1 500.7,353.2 500.9,353.3 501.0,354.8 501.1,355.6 501.2,356.6 501.4,352.3 501.5,356.5 501.6,356.8 501.7,355.2 501.9,352.4 502.0,356.8 502.1,356.7 502.2,355.5 502.4,354.8 502.5,353.5 502.6,355.7 502.7,355.0 502.9,353.1 503.0,355.8 503.1,355.8 503.2,353.1 503.4,353.6 503.5,352.4 503.6,353.1 503.7,353.9 503.9,356.6 504.0,356.5 504.1,355.7 504.2,353.4 504.4,355.2 504.5,356.7 504.6,352.3 504.7,355.0 504.9,356.8 505.0,353.4 505.1,353.7 505.2,355.4 505.4,356.4 505.5,353.5 505.6,356.7 505.7,353.6 505.9,354.6 506.0,352.7 506.1,355.2 506.2,352.9 506.4,354.2 506.5,355.3 506.6,353.9 506.7,355.0 506.9,355.0 507.0,355.8 507.1,354.4 507.2,354.8 507.4,355.1 507.5,356.8 507.6,352.7 507.7,355.5 507.9,352.3 508.0,355.8 508.1,356.9 508.2,352.4 508.4,354.0 508.5,353.4 508.6,354.9 508.7,356.9 508.9,353.4 509.0,352.7 509.1,354.8 509.2,356.5 509.4,355.3 509.5,352.6 509.6,356.9 509.7,355.0 509.9,356.1 510.0,353.6 510.1,353.3 510.2,354.6 510.4,353.7 510.5,352.4 510.6,355.4 510.7,354.5 510.9,353.1 511.0,356.4 511.1,353.5 511.2,355.4 511.4,355.7 511.5,356.1 511.6,354.7 511.7,354.2 511.9,355.4 512.0,354.5 512.1,356.2 512.3,354.2 512.4,354.7 512.5,356.5 512.6,354.5 512.8,354.2 512.9,355.1 513.0,354.6 513.1,354.4 513.3,354.7 513.4,356.3 513.5,356.7 513.6,355.1 513.8,354.0 513.9,353.3 514.0,354.6 514.1,354.6 514.3,353.9 514.4,355.3 514.5,352.8 514.6,354.6 514.8,355.2 514.9,352.8 515.0,355.4 515.1,354.3 515.3,355.2 515.4,352.7 515.5,354.0 515.6,356.6 515.8,353.7 515.9,355.8 516.0,354.4 516.1,354.0 516.3,353.9 516.4,353.5 516.5,354.5 516.6,353.8 516.8,356.7 516.9,354.4 517.0,354.2 517.1,352.9 517.3,354.9 517.4,356.3 517.5,354.4 517.6,354.9 517.8,354.4 517.9,356.5 518.0,356.3 518.1,354.4 518.3,353.7 518.4,354.2 518.5,355.3 518.6,354.2 518.8,353.1 518.9,353.2 519.0,353.2 519.1,354.6 519.3,352.7 519.4,355.1 519.5,352.5 519.6,356.1 519.8,356.5 519.9,355.9 520.0,354.3 520.1,353.1 520.3,356.0 520.4,354.5 520.5,356.6 520.6,354.9 520.8,353.6 520.9,353.5 521.0,353.6 521.1,354.5 521.3,356.5 521.4,354.0 521.5,353.6 521.6,355.0 521.8,352.6 521.9,353.7 522.0,354.4 522.1,356.4 522.3,356.6 522.4,354.6 522.5,354.5 522.6,354.2 522.8,354.1 522.9,353.4 523.0,354.0 523.1,355.6 523.3,355.1 523.4,354.9 523.5,355.2 523.6,352.8 523.8,355.9 523.9,355.7 524.0,354.3 524.1,355.4 524.3,355.2 524.4,354.5 524.5,353.4 524.6,353.3 524.8,354.6 524.9,353.1 525.0,355.0 525.1,355.9 525.3,354.5 525.4,353.5 525.5,356.6 525.6,354.5 525.8,356.0 525.9,354.0 526.0,352.7 526.1,353.5 526.3,353.8 526.4,354.2 526.5,353.2 526.6,353.9 526.8,354.6 526.9,355.1 527.0,355.3 527.1,353.6 527.3,356.2 527.4,354.7 527.5,355.1 527.6,354.6 527.8,354.8 527.9,355.4 528.0,355.8 528.1,352.9 528.3,355.9 528.4,355.1 528.5,356.0 528.6,355.7 528.8,354.5 528.9,355.4 529.0,355.9 529.1,353.5 529.3,354.7 529.4,354.1 529.5,354.4 529.6,355.0 529.8,353.3 529.9,356.4 530.0,354.7 530.1,356.4 530.3,353.6 530.4,354.4 530.5,353.9 530.6,353.0 530.8,352.8 530.9,353.1 531.0,353.8 531.1,353.1 531.3,353.4 531.4,353.8 531.5,355.1 531.6,354.4 531.8,354.8 531.9,353.8 532.0,353.5 532.1,355.3 532.3,354.9 532.4,354.5 532.5,356.4 532.6,353.9 532.8,355.7 532.9,355.5 533.0,354.6 533.1,354.0 533.3,355.2 533.4,354.5 533.5,355.5 533.6,356.0 533.8,354.7 533.9,355.0 534.0,353.9 534.2,356.3 534.3,355.9 534.4,355.9 534.5,354.5 534.7,354.4 534.8,352.7 534.9,355.2 535.0,353.7 535.2,353.6 535.3,353.8 535.4,355.3 535.5,353.5 535.7,353.7 535.8,353.9 535.9,354.7 536.0,354.2 536.2,354.5 536.3,353.3 536.4,352.7 536.5,355.2 536.7,353.2 536.8,355.8 536.9,356.1 537.0,353.8 537.2,355.5 537.3,356.2 537.4,355.5 537.5,352.7 537.7,355.8 537.8,354.8 537.9,352.8 538.0,356.3 538.2,353.2 538.3,355.7 538.4,354.0 538.5,356.4 538.7,356.4 538.8,355.2 538.9,355.6 539.0,354.9 539.2,354.6 539.3,356.2 539.4,354.3 539.5,352.9 539.7,353.8 539.8,354.1 539.9,354.4 540.0,355.8 540.2,355.0 540.3,354.2 540.4,355.1 540.5,354.9 540.7,355.0 540.8,353.8 540.9,354.3 541.0,355.8 541.2,353.7 541.3,354.7 541.4,355.6 541.5,354.5 541.7,353.5 541.8,354.4 541.9,354.9 542.0,356.2 542.2,354.7 542.3,353.1 542.4,356.0 542.5,353.3 542.7,355.2 542.8,353.9 542.9,353.4 543.0,353.4 543.2,354.1 543.3,354.4 543.4,354.8 543.5,354.0 543.7,354.3 543.8,354.2 543.9,355.3 544.0,356.2 544.2,356.2 544.3,356.1 544.4,355.0 544.5,354.5 544.7,353.8 544.8,355.1 544.9,353.2 545.0,355.5 545.2,353.3 545.3,354.0 545.4,355.5 545.5,355.3 545.7,355.2 545.8,355.4 545.9,353.1 546.0,355.7 546.2,354.7 546.3,355.4 546.4,354.1 546.5,353.7 546.7,354.2 546.8,354.6 546.9,355.8 547.0,354.7 547.2,355.8 547.3,354.5 547.4,354.3 547.5,354.4 547.7,354.8 547.8,354.3 547.9,355.9 548.0,355.3 548.2,352.9 548.3,355.7 548.4,356.3 548.5,354.3 548.7,354.2 548.8,355.4 548.9,354.4 549.0,352.9 549.2,353.4 549.3,355.3 549.4,354.0 549.5,354.4 549.7,355.0 549.8,354.0 549.9,355.7 550.0,355.4 550.2,355.1 550.3,353.6 550.4,355.2 550.5,355.7 550.7,353.8 550.8,355.7 550.9,355.4 551.0,353.2 551.2,354.4 551.3,356.1 551.4,354.2 551.5,354.7 551.7,354.9 551.8,355.0 551.9,353.7 552.0,355.4 552.2,352.9 552.3,353.9 552.4,355.9 552.5,353.6 552.7,353.9 552.8,354.9 552.9,354.8 553.0,352.9 553.2,354.4 553.3,354.9 553.4,353.3 553.5,354.2 553.7,354.6 553.8,353.8 553.9,355.7 554.0,356.0 554.2,354.5 554.3,353.5 554.4,355.2 554.5,355.6 554.7,355.3 554.8,355.9 554.9,355.2 555.0,353.3 555.2,353.2 555.3,354.5 555.4,355.4 555.5,354.7 555.7,353.2 555.8,353.4 555.9,353.9 556.1,355.1 556.2,354.1 556.3,354.9 556.4,354.7 556.6,354.6 556.7,353.3 556.8,354.9 556.9,354.3 557.1,353.8 557.2,355.5 557.3,354.7 557.4,355.7 557.6,354.1 557.7,356.2 557.8,354.3 557.9,353.1 558.1,355.8 558.2,356.0 558.3,354.3 558.4,355.0 558.6,355.5 558.7,355.0 558.8,353.8 558.9,354.5 559.1,353.0 559.2,354.3 559.3,354.6 559.4,355.4 559.6,354.7 559.7,355.6 559.8,354.4 559.9,355.5 560.1,353.6 560.2,355.4 560.3,356.0 560.4,353.1 560.6,354.9 560.7,354.5 560.8,355.2 560.9,353.1 561.1,354.0 561.2,356.2 561.3,356.0 561.4,354.6 561.6,353.9 561.7,354.5 561.8,354.1 561.9,354.9 562.1,354.7 562.2,355.3 562.3,354.5 562.4,354.7 562.6,355.7 562.7,354.4 562.8,354.0 562.9,355.9 563.1,355.9 563.2,356.1 563.3,354.0 563.4,353.7 563.6,355.8 563.7,353.2 563.8,353.5 563.9,355.1 564.1,354.0 564.2,354.8 564.3,356.2 564.4,355.0 564.6,355.1 564.7,355.2 564.8,354.6 564.9,354.7 565.1,354.7 565.2,354.5 565.3,354.5 565.4,356.0 565.6,353.5 565.7,354.5 565.8,355.9 565.9,355.8 566.1,353.6 566.2,353.9 566.3,354.7 566.4,353.6 566.6,355.6 566.7,353.0 566.8,354.9 566.9,354.1 567.1,354.5 567.2,353.8 567.3,354.9 567.4,355.3 567.6,355.6 567.7,354.6 567.8,354.7 567.9,354.9 568.1,354.0 568.2,353.2 568.3,355.5 568.4,355.8 568.6,354.1 568.7,353.2 568.8,353.8 568.9,355.6 569.1,355.6 569.2,354.6 569.3,356.1 569.4,355.1 569.6,355.0 569.7,353.9 569.8,354.6 569.9,354.2 570.1,355.0 570.2,354.8 570.3,355.8 570.4,353.6 570.6,355.2 570.7,355.2 570.8,353.3 570.9,354.5 571.1,353.4 571.2,355.5 571.3,353.8 571.4,356.0 571.6,353.6 571.7,355.6 571.8,354.5 571.9,354.0 572.1,354.6 572.2,353.7 572.3,354.2 572.4,354.4 572.6,353.2 572.7,354.5 572.8,353.1 572.9,353.1 573.1,354.2 573.2,354.9 573.3,353.7 573.4,354.0 573.6,353.5 573.7,354.3 573.8,353.3 573.9,354.5 574.1,353.3 574.2,354.7 574.3,355.1 574.4,353.7 574.6,356.0 574.7,355.3 574.8,353.7 574.9,353.3 575.1,354.7 575.2,354.1 575.3,354.7 575.4,354.9 575.6,353.7 575.7,355.6 575.8,354.4 575.9,353.8 576.1,355.0 576.2,353.4 576.3,355.1 576.4,354.8 576.6,355.6 576.7,355.0 576.8,353.5 576.9,354.6 577.1,354.6 577.2,354.4 577.3,354.8 577.4,354.4 577.6,354.1 577.7,355.4 577.8,354.6 578.0,355.3 578.1,356.1 578.2,354.1 578.3,353.2 578.5,353.6 578.6,354.6 578.7,355.4 578.8,353.2 579.0,354.5 579.1,353.5 579.2,355.0 579.3,354.2 579.5,353.8 579.6,354.0 579.7,355.0 579.8,353.2 580.0,354.0 580.1,355.4 580.2,355.5 580.3,353.9 580.5,355.4 580.6,355.2 580.7,354.6 580.8,355.3 581.0,355.5 581.1,354.9 581.2,355.1 581.3,355.0 581.5,353.8 581.6,355.9 581.7,354.7 581.8,353.9 582.0,354.5 582.1,356.0 582.2,356.0 582.3,353.8 582.5,354.2 582.6,354.3 582.7,355.0 582.8,355.0 583.0,354.8 583.1,354.9 583.2,354.0 583.3,355.3 583.5,354.8 583.6,354.1 583.7,354.5 583.8,355.2 584.0,355.7 584.1,354.3 584.2,353.1 584.3,354.1 584.5,353.2 584.6,354.1 584.7,353.9 584.8,353.4 585.0,353.4 585.1,354.0 585.2,353.5 585.3,354.5 585.5,355.9 585.6,355.7 585.7,354.6 585.8,355.9 586.0,356.1 586.1,354.8 586.2,355.3 586.3,356.0 586.5,353.6 586.6,354.6 586.7,353.2 586.8,353.4 587.0,354.7 587.1,355.2 587.2,355.0 587.3,353.2 587.5,353.9 587.6,354.6 587.7,353.9 587.8,353.9 588.0,354.6 588.1,355.6 588.2,353.4 588.3,354.6 588.5,354.0 588.6,355.5 588.7,354.6 588.8,355.1 589.0,355.5 589.1,353.1 589.2,355.6 589.3,353.8 589.5,354.9 589.6,353.2 589.7,354.1 589.8,355.5 590.0,355.2 590.1,354.9 590.2,353.7 590.3,354.9 590.5,353.5 590.6,355.4 590.7,353.9 590.8,355.9 591.0,354.2 591.1,354.6 591.2,353.2 591.3,355.4 591.5,355.1 591.6,353.9 591.7,356.0 591.8,355.5 592.0,353.6 592.1,354.0 592.2,354.6 592.3,354.2 592.5,355.0 592.6,355.3 592.7,355.9 592.8,353.1 593.0,354.8 593.1,354.1 593.2,354.0 593.3,353.8 593.5,355.1 593.6,353.8 593.7,354.9 593.8,354.6 594.0,354.1 594.1,353.2 594.2,354.9 594.3,355.1 594.5,354.0 594.6,356.0 594.7,354.7 594.8,353.2 595.0,354.5 595.1,355.5 595.2,355.0 595.3,355.3 595.5,354.1 595.6,353.6 595.7,355.1 595.8,353.3 596.0,354.8 596.1,355.5 596.2,354.0 596.3,355.4 596.5,353.6 596.6,353.9 596.7,354.2 596.8,354.0 597.0,354.7 597.1,353.5 597.2,353.9 597.3,354.6 597.5,355.1 597.6,355.3 597.7,354.2 597.8,353.6 598.0,355.0 598.1,354.8 598.2,355.4 598.3,355.6 598.5,355.1 598.6,354.1 598.7,354.7 598.8,354.8 599.0,353.8 599.1,354.5 599.2,353.9 599.3,353.3 599.5,354.1 599.6,354.6 599.7,355.9 599.9,355.8 600.0,353.9 600.1,355.8 600.2,354.5 600.4,355.5 600.5,353.7 600.6,354.1 600.7,355.2 600.9,353.9 601.0,354.5 601.1,355.0 601.2,354.5 601.4,353.3 601.5,355.4 601.6,353.6 601.7,355.9 601.9,355.6 602.0,355.6 602.1,354.6 602.2,353.3 602.4,355.6 602.5,355.3 602.6,354.5 602.7,355.3 602.9,354.5 603.0,355.2 603.1,356.0 603.2,355.1 603.4,355.8 603.5,353.8 603.6,355.2 603.7,355.2 603.9,356.0 604.0,354.6 604.1,355.9 604.2,354.4 604.4,353.9 604.5,354.1 604.6,353.7 604.7,354.5 604.9,355.3 605.0,353.7 605.1,354.5 605.2,353.2 605.4,353.6 605.5,355.0 605.6,353.4 605.7,353.7 605.9,353.9 606.0,353.3 606.1,353.6 606.2,354.2 606.4,354.0 606.5,354.8 606.6,353.7 606.7,354.1 606.9,354.8 607.0,354.8 607.1,354.3 607.2,354.9 607.4,354.0 607.5,355.3 607.6,355.6 607.7,355.8 607.9,354.6 608.0,354.9 608.1,354.1 608.2,355.5 608.4,353.7 608.5,354.9 608.6,353.6 608.7,353.4 608.9,354.3 609.0,353.6 609.1,354.4 609.2,353.9 609.4,353.3 609.5,356.0 609.6,354.0 609.7,354.3 609.9,354.1 610.0,355.5 610.1,355.9 610.2,355.1 610.4,354.7 610.5,354.9 610.6,355.0 610.7,355.2 610.9,354.5 611.0,355.3 611.1,353.6 611.2,353.7 611.4,353.6 611.5,354.7 611.6,355.1 611.7,354.3 611.9,353.3 612.0,354.7 612.1,353.9 612.2,355.4 612.4,355.7 612.5,354.7 612.6,354.3 612.7,354.0 612.9,354.9 613.0,355.4 613.1,353.7 613.2,354.1 613.4,354.7 613.5,354.2 613.6,354.7 613.7,353.4 613.9,354.4 614.0,354.0 614.1,353.2 614.2,353.6 614.4,354.2 614.5,354.5 614.6,354.1 614.7,355.2 614.9,354.8 615.0,354.1 615.1,355.0 615.2,354.7 615.4,354.0 615.5,354.3 615.6,354.2 615.7,355.6 615.9,354.5 616.0,355.8 616.1,355.7 616.2,354.1 616.4,354.3 616.5,354.8 616.6,354.6 616.7,354.0 616.9,355.8 617.0,354.6 617.1,354.7 617.2,355.3 617.4,354.3 617.5,353.8 617.6,354.6 617.7,354.0 617.9,353.7 618.0,353.5 618.1,353.4 618.2,354.3 618.4,354.1 618.5,354.5 618.6,355.7 618.7,353.7 618.9,353.2 619.0,353.2 619.1,353.2 619.2,353.2 619.4,354.8 619.5,355.8 619.6,355.5 619.7,355.9 619.9,355.1 620.0,355.1 620.1,355.4 620.2,354.3 620.4,354.1 620.5,354.1 620.6,353.4 620.7,354.0 620.9,355.1 621.0,354.9 621.1,354.8 621.2,354.3 621.4,355.2 621.5,353.5 621.6,355.4 621.8,354.3 621.9,354.3 622.0,354.5 622.1,354.0 622.3,354.4 622.4,354.0 622.5,353.5 622.6,355.0 622.8,354.5 622.9,354.9 623.0,355.6 623.1,354.8 623.3,354.1 623.4,354.9 623.5,354.9 623.6,354.4 623.8,355.6 623.9,354.9 624.0,355.5 624.1,355.9 624.3,354.3 624.4,354.6 624.5,355.7 624.6,355.5 624.8,355.0 624.9,354.4 625.0,354.8 625.1,355.9 625.3,353.7 625.4,354.0 625.5,355.2 625.6,353.2 625.8,354.5 625.9,355.7 626.0,354.6 626.1,355.2 626.3,353.7 626.4,353.9 626.5,354.7 626.6,355.3 626.8,353.3 626.9,354.7 627.0,355.3 627.1,353.6 627.3,353.6 627.4,355.3 627.5,354.9 627.6,355.8 627.8,355.9 627.9,353.9 628.0,354.1 628.1,354.1 628.3,355.1 628.4,355.6 628.5,353.9 628.6,355.4 628.8,353.6 628.9,354.4 629.0,354.6 629.1,355.8 629.3,354.7 629.4,355.1 629.5,353.9 629.6,354.0 629.8,354.1 629.9,354.0 630.0,353.6 630.1,353.4 630.3,353.9 630.4,355.3 630.5,355.3 630.6,353.7 630.8,354.7 630.9,354.8 631.0,354.9 631.1,354.6 631.3,354.7 631.4,355.2 631.5,353.8 631.6,354.9 631.8,355.0 631.9,354.2 632.0,355.9 632.1,355.6 632.3,354.0 632.4,354.5 632.5,355.0 632.6,354.1 632.8,355.2 632.9,354.1 633.0,353.3 633.1,354.8 633.3,354.3 633.4,355.0 633.5,355.4 633.6,354.2 633.8,354.7 633.9,354.2 634.0,353.7 634.1,354.9 634.3,355.4 634.4,355.9 634.5,355.4 634.6,355.9 634.8,355.6 634.9,354.5 635.0,354.9 635.1,355.7 635.3,355.2 635.4,356.0 635.5,354.1 635.6,353.7 635.8,354.7 635.9,354.0 636.0,353.3 636.1,355.3 636.3,355.4 636.4,355.3 636.5,354.9 636.6,355.7 636.8,355.8 636.9,353.4 637.0,354.4 637.1,355.6 637.3,353.9 637.4,355.6 637.5,354.4 637.6,353.5 637.8,355.8 637.9,355.8 638.0,355.5 638.1,354.6 638.3,353.8 638.4,354.7 638.5,355.0 638.6,355.0 638.8,355.8 638.9,355.9 639.0,354.5 639.1,354.6 639.3,355.3 639.4,355.4 639.5,354.9 639.6,353.8 639.8,355.4 639.9,354.5 640.0,354.9 640.1,354.3 640.3,355.4 640.4,354.9 640.5,355.7 640.6,354.0 640.8,355.0 640.9,355.2 641.0,354.0 641.1,353.8 641.3,353.9 641.4,354.6 641.5,353.7 641.6,355.5 641.8,355.2 641.9,355.4 642.0,354.7 642.1,354.7 642.3,355.1 642.4,354.7 642.5,355.5 642.6,355.1 642.8,354.8 642.9,355.2 643.0,354.8 643.1,355.9 643.3,354.7 643.4,354.0 643.5,355.7 643.7,353.7 643.8,355.8 643.9,354.7 644.0,354.9 644.2,355.7 644.3,354.9 644.4,355.6 644.5,354.5 644.7,354.1 644.8,355.0 644.9,355.8 645.0,354.6 645.2,354.8 645.3,354.8 645.4,354.8 645.5,353.8 645.7,354.2 645.8,355.9 645.9,355.3 646.0,354.0 646.2,355.6 646.3,354.5 646.4,355.9 646.5,353.6 646.7,353.9 646.8,353.9 646.9,354.8 647.0,353.5 647.2,354.5 647.3,354.8 647.4,353.3 647.5,355.9 647.7,353.6 647.8,354.7 647.9,354.2 648.0,354.4 648.2,355.8 648.3,354.5 648.4,355.3 648.5,355.4 648.7,354.5 648.8,354.1 648.9,355.3 649.0,353.9 649.2,354.5" fill="none" stroke="#d040a8" stroke-width="0.9"/>
<path d="M380.6,353.5 380.7,353.5 380.9,353.7 381.0,355.3 381.1,355.9 381.2,353.2 381.4,354.3 381.5,356.1 381.6,353.4 381.7,353.1 381.9,355.2 382.0,353.7 382.1,355.9 382.2,354.8 382.4,353.7 382.5,354.8 382.6,354.6 382.7,355.8 382.9,353.7 383.0,354.6 383.1,355.3 383.2,353.8 383.4,353.1 383.5,354.5 383.6,353.9 383.7,353.1 383.9,356.0 384.0,354.3 384.1,353.2 384.2,355.8 384.4,355.4 384.5,354.5 384.6,354.0 384.7,354.5 384.9,354.5 385.0,356.0 385.1,353.9 385.2,355.1 385.4,355.9 385.5,353.2 385.6,354.2 385.7,354.7 385.9,353.9 386.0,354.7 386.1,355.7 386.2,354.3 386.4,353.9 386.5,353.9 386.6,354.5 386.7,353.3 386.9,353.2 387.0,353.5 387.1,354.9 387.2,355.3 387.4,354.5 387.5,354.2 387.6,355.6 387.7,354.5 387.9,354.8 388.0,356.1 388.1,354.8 388.2,354.9 388.4,353.2 388.5,356.0 388.6,353.3 388.7,353.4 388.9,354.3 389.0,355.5 389.1,353.7 389.2,355.6 389.4,355.1 389.5,354.1 389.6,354.8 389.7,354.7 389.9,355.2 390.0,356.0 390.1,355.0 390.2,353.6 390.4,353.6 390.5,355.9 390.6,354.5 390.7,355.0 390.9,354.9 391.0,353.1 391.1,353.7 391.2,354.6 391.4,354.6 391.5,353.3 391.6,354.9 391.7,353.8 391.9,353.9 392.0,353.9 392.1,354.7 392.2,354.1 392.4,353.6 392.5,355.2 392.6,353.8 392.7,354.6 392.9,354.5 393.0,354.7 393.1,354.9 393.2,353.9 393.4,354.9 393.5,355.5 393.6,353.8 393.7,354.9 393.9,354.4 394.0,353.1 394.1,354.2 394.2,354.5 394.4,355.2 394.5,354.0 394.6,353.2 394.7,354.0 394.9,353.8 395.0,355.1 395.1,355.1 395.2,355.0 395.4,354.6 395.5,353.4 395.6,354.7 395.7,355.6 395.9,354.5 396.0,355.3 396.1,354.2 396.2,355.0 396.4,353.2 396.5,354.8 396.6,354.4 396.7,354.4 396.9,354.8 397.0,353.1 397.1,356.0 397.2,353.9 397.4,355.3 397.5,355.9 397.6,355.5 397.7,353.9 397.9,353.4 398.0,353.8 398.1,355.2 398.2,354.6 398.4,355.7 398.5,354.8 398.6,355.3 398.7,356.0 398.9,355.2 399.0,353.3 399.1,354.5 399.2,355.2 399.4,355.8 399.5,353.4 399.6,355.8 399.7,356.0 399.9,355.8 400.0,353.9 400.1,353.3 400.2,355.8 400.4,354.2 400.5,354.2 400.6,354.5 400.7,356.1 400.9,354.1 401.0,354.8 401.1,353.3 401.2,353.1 401.4,354.2 401.5,355.8 401.6,355.1 401.7,354.2 401.9,353.5 402.0,354.8 402.1,355.0 402.2,354.3 402.4,353.5 402.5,355.5 402.6,354.4 402.8,354.3 402.9,354.7 403.0,355.0 403.1,353.2 403.3,353.7 403.4,355.6 403.5,356.1 403.6,355.3 403.8,354.8 403.9,355.6 404.0,355.0 404.1,354.1 404.3,353.9 404.4,353.7 404.5,353.7 404.6,355.1 404.8,354.5 404.9,353.9 405.0,354.3 405.1,354.4 405.3,353.7 405.4,353.2 405.5,353.4 405.6,355.3 405.8,355.7 405.9,355.2 406.0,353.7 406.1,355.1 406.3,353.9 406.4,354.4 406.5,353.1 406.6,355.7 406.8,353.6 406.9,356.0 407.0,354.2 407.1,354.5 407.3,355.3 407.4,355.3 407.5,354.9 407.6,354.6 407.8,355.6 407.9,354.7 408.0,355.8 408.1,354.6 408.3,354.5 408.4,354.9 408.5,354.6 408.6,354.4 408.8,354.6 408.9,355.5 409.0,358.8 409.1,358.2 409.3,345.9 409.4,354.6 409.5,351.0 409.6,360.1 409.8,354.3 409.9,355.7 410.0,360.7 410.1,360.5 410.3,360.2 410.4,349.3 410.5,349.1 410.6,345.7 410.8,358.4 410.9,354.2 411.0,348.9 411.1,353.2 411.3,344.6 411.4,368.6 411.5,349.2 411.6,365.6 411.8,354.2 411.9,357.6 412.0,355.8 412.1,346.2 412.3,368.3 412.4,370.2 412.5,339.2 412.6,354.9 412.8,357.4 412.9,367.3 413.0,354.5 413.1,348.8 413.3,339.5 413.4,358.3 413.5,368.7 413.6,345.2 413.8,361.5 413.9,346.9 414.0,343.4 414.1,336.7 414.3,366.9 414.4,328.8 414.5,358.4 414.6,342.8 414.8,356.6 414.9,356.7 415.0,342.0 415.1,368.9 415.3,379.1 415.4,370.1 415.5,354.3 415.6,365.2 415.8,359.4 415.9,354.8 416.0,353.7 416.1,358.2 416.3,368.1 416.4,342.9 416.5,341.0 416.6,352.6 416.8,362.1 416.9,335.5 417.0,368.8 417.1,340.4 417.3,331.4 417.4,363.2 417.5,351.7 417.6,353.0 417.8,373.3 417.9,355.6 418.0,344.7 418.1,350.1 418.3,368.3 418.4,365.0 418.5,347.9 418.6,372.4 418.8,348.0 418.9,353.6 419.0,380.4 419.1,357.1 419.3,355.2 419.4,369.4 419.5,338.7 419.6,357.1 419.8,349.1 419.9,369.2 420.0,340.7 420.1,347.9 420.3,363.2 420.4,339.8 420.5,340.8 420.6,355.7 420.8,362.3 420.9,342.9 421.0,373.1 421.1,337.9 421.3,337.4 421.4,370.0 421.5,338.2 421.6,362.0 421.8,343.5 421.9,341.4 422.0,366.1 422.1,359.8 422.3,337.8 422.4,344.7 422.5,347.8 422.6,363.7 422.8,346.8 422.9,370.9 423.0,362.3 423.1,362.8 423.3,369.8 423.4,355.4 423.5,370.4 423.6,338.2 423.8,354.9 423.9,346.0 424.0,353.9 424.1,366.6 424.3,355.8 424.4,370.4 424.5,360.4 424.7,350.8 424.8,364.2 424.9,341.9 425.0,351.0 425.2,369.1 425.3,356.4 425.4,343.0 425.5,361.4 425.7,365.6 425.8,360.7 425.9,354.9 426.0,357.2 426.2,361.5 426.3,355.4 426.4,354.9 426.5,349.5 426.7,340.8 426.8,351.4 426.9,365.9 427.0,363.7 427.2,359.5 427.3,343.0 427.4,366.0 427.5,351.1 427.7,356.7 427.8,360.8 427.9,351.4 428.0,348.5 428.2,348.2 428.3,361.3 428.4,361.9 428.5,361.9 428.7,361.0 428.8,361.1 428.9,354.2 429.0,358.6 429.2,352.1 429.3,343.5 429.4,348.1 429.5,364.0 429.7,344.4 429.8,356.8 429.9,361.6 430.0,360.0 430.2,364.5 430.3,359.1 430.4,355.1 430.5,363.1 430.7,344.5 430.8,355.9 430.9,354.0 431.0,358.1 431.2,346.2 431.3,347.3 431.4,354.9 431.5,365.0 431.7,351.7 431.8,357.6 431.9,361.7 432.0,355.2 432.2,350.3 432.3,351.7 432.4,362.4 432.5,346.6 432.7,354.9 432.8,346.8 432.9,355.9 433.0,346.9 433.2,348.3 433.3,363.3 433.4,347.5 433.5,351.5 433.7,353.3 433.8,363.8 433.9,352.5 434.0,352.3 434.2,348.2 434.3,356.3 434.4,362.3 434.5,350.7 434.7,356.7 434.8,357.3 434.9,351.9 435.0,362.5 435.2,362.6 435.3,346.5 435.4,348.5 435.5,349.8 435.7,354.8 435.8,356.2 435.9,359.6 436.0,362.3 436.2,350.0 436.3,358.3 436.4,350.8 436.5,361.6 436.7,358.4 436.8,355.5 436.9,356.3 437.0,359.0 437.2,350.5 437.3,361.2 437.4,353.1 437.5,353.8 437.7,354.4 437.8,359.3 437.9,352.6 438.0,351.6 438.2,353.8 438.3,353.6 438.4,354.1 438.5,355.4 438.7,353.7 438.8,354.4 438.9,357.5 439.0,349.7 439.2,356.6 439.3,360.2 439.4,353.0 439.5,349.7 439.7,359.9 439.8,361.2 439.9,356.9 440.0,357.5 440.2,359.2 440.3,357.4 440.4,355.5 440.5,358.2 440.7,354.3 440.8,355.6 440.9,355.8 441.0,359.7 441.2,351.4 441.3,353.2 441.4,354.0 441.5,356.8 441.7,348.1 441.8,351.8 441.9,350.5 442.0,354.0 442.2,353.3 442.3,352.4 442.4,357.2 442.5,357.5 442.7,351.4 442.8,356.7 442.9,360.5 443.0,355.0 443.2,350.3 443.3,355.4 443.4,354.0 443.5,349.8 443.7,358.7 443.8,358.3 443.9,360.4 444.0,356.1 444.2,358.9 444.3,353.9 444.4,356.4 444.5,359.4 444.7,352.1 444.8,351.8 444.9,349.9 445.0,356.1 445.2,354.2 445.3,353.2 445.4,350.4 445.5,349.6 445.7,356.3 445.8,357.6 445.9,356.9 446.0,357.1 446.2,351.7 446.3,353.4 446.4,358.7 446.6,353.4 446.7,353.0 446.8,354.7 446.9,352.2 447.1,359.2 447.2,352.7 447.3,359.3 447.4,350.9 447.6,354.3 447.7,351.1 447.8,358.3 447.9,357.6 448.1,351.2 448.2,358.9 448.3,356.3 448.4,351.8 448.6,351.0 448.7,358.2 448.8,359.1 448.9,353.4 449.1,357.3 449.2,356.5 449.3,359.1 449.4,355.9 449.6,351.6 449.7,354.0 449.8,359.3 449.9,358.8 450.1,350.8 450.2,353.4 450.3,357.7 450.4,353.6 450.6,351.8 450.7,351.5 450.8,353.3 450.9,358.0 451.1,351.3 451.2,353.1 451.3,351.6 451.4,354.8 451.6,351.1 451.7,351.8 451.8,356.1 451.9,357.8 452.1,353.6 452.2,357.3 452.3,355.9 452.4,357.0 452.6,355.5 452.7,355.8 452.8,352.9 452.9,353.7 453.1,357.5 453.2,353.3 453.3,352.4 453.4,354.9 453.6,358.9 453.7,352.0 453.8,352.7 453.9,358.5 454.1,356.5 454.2,352.4 454.3,353.5 454.4,357.7 454.6,355.9 454.7,358.7 454.8,351.2 454.9,352.2 455.1,356.7 455.2,355.2 455.3,352.6 455.4,354.4 455.6,358.0 455.7,352.3 455.8,352.9 455.9,358.8 456.1,351.6 456.2,354.7 456.3,354.0 456.4,353.2 456.6,351.3 456.7,354.6 456.8,356.6 456.9,355.3 457.1,351.5 457.2,353.6 457.3,354.3 457.4,354.3 457.6,354.7 457.7,351.0 457.8,350.9 457.9,355.8 458.1,358.7 458.2,357.3 458.3,356.5 458.4,355.2 458.6,353.3 458.7,353.4 458.8,354.7 458.9,351.2 459.1,357.8 459.2,355.2 459.3,352.2 459.4,353.3 459.6,354.3 459.7,353.2 459.8,358.6 459.9,353.0 460.1,354.5 460.2,351.9 460.3,357.1 460.4,355.3 460.6,350.8 460.7,355.9 460.8,353.3 460.9,351.3 461.1,354.4 461.2,354.5 461.3,354.5 461.4,356.4 461.6,354.5 461.7,353.0 461.8,354.6 461.9,355.8 462.1,355.3 462.2,357.7 462.3,358.4 462.4,351.3 462.6,355.4 462.7,353.0 462.8,353.5 462.9,356.2 463.1,355.9 463.2,353.6 463.3,354.6 463.4,353.6 463.6,354.1 463.7,354.8 463.8,353.7 463.9,354.9 464.1,357.9 464.2,354.4 464.3,351.3 464.4,352.9 464.6,356.2 464.7,354.6 464.8,357.5 464.9,353.4 465.1,355.4 465.2,354.1 465.3,351.1 465.4,353.9 465.6,352.5 465.7,358.2 465.8,355.8 465.9,354.1 466.1,356.8 466.2,354.3 466.3,355.6 466.4,354.8 466.6,357.5 466.7,353.2 466.8,356.2 466.9,355.7 467.1,356.9 467.2,356.3 467.3,357.0 467.4,351.1 467.6,352.5 467.7,352.9 467.8,357.5 467.9,356.2 468.1,351.7 468.2,351.9 468.3,356.8 468.5,354.1 468.6,353.5 468.7,355.1 468.8,355.7 469.0,356.2 469.1,353.3 469.2,355.7 469.3,353.2 469.5,357.9 469.6,354.4 469.7,352.0 469.8,357.1 470.0,358.0 470.1,353.2 470.2,356.6 470.3,354.2 470.5,358.0 470.6,354.6 470.7,355.1 470.8,357.9 471.0,355.9 471.1,354.8 471.2,354.5 471.3,355.7 471.5,353.7 471.6,353.0 471.7,357.2 471.8,351.9 472.0,355.4 472.1,354.0 472.2,351.9 472.3,353.5 472.5,355.0 472.6,353.0 472.7,355.6 472.8,357.7 473.0,353.6 473.1,355.2 473.2,352.4 473.3,357.7 473.5,353.3 473.6,354.9 473.7,357.6 473.8,355.1 474.0,352.7 474.1,352.2 474.2,353.8 474.3,353.4 474.5,352.2 474.6,351.8 474.7,354.5 474.8,357.6 475.0,353.7 475.1,357.5 475.2,357.3 475.3,354.6 475.5,354.0 475.6,357.1 475.7,353.8 475.8,353.2 476.0,352.0 476.1,354.9 476.2,351.7 476.3,356.4 476.5,354.2 476.6,356.2 476.7,355.3 476.8,356.1 477.0,351.5 477.1,351.8 477.2,354.2 477.3,357.2 477.5,356.3 477.6,356.6 477.7,355.8 477.8,354.9 478.0,355.2 478.1,354.9 478.2,352.8 478.3,355.0 478.5,354.5 478.6,354.7 478.7,356.0 478.8,354.1 479.0,356.5 479.1,356.9 479.2,354.2 479.3,353.5 479.5,356.9 479.6,354.6 479.7,356.8 479.8,355.5 480.0,353.8 480.1,353.7 480.2,355.0 480.3,352.7 480.5,352.5 480.6,356.3 480.7,352.0 480.8,356.0 481.0,352.2 481.1,354.1 481.2,352.0 481.3,355.5 481.5,352.7 481.6,355.4 481.7,353.5 481.8,353.3 482.0,352.8 482.1,353.9 482.2,354.9 482.3,357.5 482.5,353.4 482.6,354.2 482.7,356.8 482.8,353.6 483.0,355.2 483.1,353.8 483.2,354.8 483.3,353.0 483.5,353.4 483.6,352.4 483.7,352.4 483.8,357.5 484.0,354.0 484.1,351.8 484.2,357.3 484.3,353.2 484.5,355.8 484.6,354.3 484.7,357.0 484.8,353.8 485.0,352.7 485.1,353.3 485.2,353.5 485.3,352.4 485.5,354.3 485.6,356.1 485.7,354.5 485.8,352.9 486.0,355.6 486.1,355.0 486.2,352.9 486.3,357.1 486.5,357.1 486.6,355.4 486.7,352.7 486.8,356.7 487.0,354.4 487.1,353.7 487.2,357.1 487.3,352.8 487.5,353.1 487.6,357.2 487.7,354.7 487.8,355.0 488.0,353.3 488.1,357.2 488.2,355.4 488.3,357.1 488.5,354.6 488.6,356.9 488.7,353.0 488.8,355.5 489.0,357.3 489.1,355.6 489.2,354.5 489.3,356.1 489.5,356.5 489.6,353.2 489.7,354.3 489.8,357.1 490.0,353.7 490.1,356.8 490.2,353.1 490.4,352.9 490.5,355.7 490.6,357.2 490.7,354.4 490.9,354.3 491.0,355.5 491.1,355.1 491.2,357.1 491.4,352.2 491.5,356.7 491.6,354.8 491.7,355.8 491.9,354.1 492.0,356.0 492.1,356.9 492.2,354.6 492.4,355.8 492.5,353.9 492.6,355.6 492.7,352.6 492.9,354.3 493.0,354.6 493.1,354.7 493.2,354.3 493.4,354.4 493.5,354.5 493.6,356.1 493.7,353.3 493.9,355.1 494.0,355.9 494.1,354.1 494.2,354.0 494.4,355.2 494.5,353.6 494.6,356.1 494.7,357.0 494.9,356.0 495.0,353.4 495.1,356.5 495.2,353.9 495.4,354.3 495.5,354.3 495.6,355.4 495.7,355.0 495.9,353.0 496.0,355.1 496.1,356.8 496.2,354.8 496.4,356.8 496.5,356.3 496.6,355.9 496.7,354.6 496.9,354.4 497.0,355.0 497.1,356.9 497.2,356.4 497.4,354.2 497.5,357.1 497.6,353.3 497.7,354.2 497.9,354.4 498.0,352.6 498.1,356.4 498.2,354.2 498.4,355.0 498.5,353.3 498.6,354.2 498.7,354.3 498.9,355.0 499.0,352.7 499.1,354.4 499.2,355.9 499.4,356.5 499.5,352.4 499.6,352.6 499.7,353.9 499.9,353.3 500.0,352.3 500.1,353.5 500.2,355.4 500.4,353.5 500.5,354.1 500.6,356.0 500.7,354.3 500.9,352.4 501.0,352.4 501.1,355.2 501.2,352.6 501.4,355.8 501.5,355.3 501.6,356.0 501.7,355.3 501.9,352.5 502.0,356.1 502.1,356.0 502.2,355.4 502.4,352.9 502.5,355.5 502.6,355.1 502.7,354.7 502.9,353.2 503.0,355.2 503.1,353.6 503.2,353.2 503.4,356.9 503.5,352.8 503.6,355.5 503.7,354.6 503.9,356.9 504.0,352.7 504.1,356.6 504.2,352.5 504.4,354.6 504.5,353.7 504.6,353.9 504.7,356.8 504.9,353.8 505.0,355.9 505.1,356.5 505.2,352.7 505.4,355.8 505.5,352.9 505.6,355.8 505.7,353.6 505.9,353.3 506.0,355.2 506.1,354.7 506.2,352.8 506.4,355.9 506.5,356.8 506.6,353.4 506.7,352.7 506.9,355.1 507.0,356.0 507.1,355.8 507.2,354.6 507.4,352.5 507.5,353.3 507.6,353.3 507.7,355.1 507.9,355.5 508.0,353.9 508.1,352.6 508.2,353.9 508.4,352.4 508.5,354.8 508.6,355.3 508.7,356.6 508.9,355.6 509.0,353.7 509.1,353.4 509.2,355.8 509.4,355.2 509.5,356.4 509.6,354.9 509.7,355.0 509.9,352.7 510.0,353.3 510.1,352.8 510.2,356.3 510.4,355.4 510.5,353.0 510.6,355.7 510.7,355.2 510.9,356.4 511.0,356.8 511.1,354.2 511.2,355.1 511.4,355.2 511.5,355.0 511.6,353.4 511.7,356.4 511.9,356.7 512.0,356.5 512.1,356.5 512.3,353.9 512.4,354.6 512.5,356.4 512.6,355.2 512.8,356.5 512.9,354.5 513.0,353.6 513.1,356.1 513.3,353.0 513.4,353.3 513.5,352.4 513.6,354.6 513.8,354.5 513.9,356.7 514.0,352.8 514.1,353.4 514.3,354.1 514.4,353.5 514.5,355.8 514.6,353.3 514.8,353.8 514.9,355.8 515.0,353.6 515.1,354.4 515.3,353.7 515.4,356.1 515.5,353.2 515.6,355.1 515.8,353.1 515.9,352.5 516.0,356.6 516.1,354.0 516.3,356.7 516.4,355.3 516.5,352.5 516.6,354.0 516.8,353.7 516.9,354.7 517.0,355.2 517.1,356.2 517.3,354.1 517.4,352.5 517.5,354.7 517.6,354.7 517.8,353.6 517.9,356.4 518.0,354.0 518.1,352.8 518.3,356.1 518.4,352.5 518.5,353.3 518.6,352.9 518.8,356.2 518.9,354.6 519.0,353.6 519.1,353.5 519.3,355.7 519.4,352.6 519.5,356.2 519.6,353.8 519.8,352.8 519.9,353.2 520.0,353.0 520.1,354.7 520.3,353.0 520.4,352.9 520.5,354.2 520.6,354.0 520.8,356.4 520.9,355.4 521.0,352.5 521.1,354.0 521.3,352.7 521.4,353.4 521.5,354.0 521.6,355.0 521.8,354.4 521.9,355.5 522.0,355.7 522.1,354.5 522.3,354.6 522.4,353.5 522.5,353.7 522.6,355.0 522.8,355.5 522.9,354.0 523.0,355.8 523.1,355.3 523.3,354.6 523.4,353.6 523.5,354.9 523.6,355.1 523.8,353.9 523.9,353.7 524.0,354.3 524.1,353.5 524.3,354.8 524.4,352.8 524.5,354.1 524.6,355.5 524.8,355.6 524.9,353.8 525.0,356.4 525.1,354.5 525.3,353.9 525.4,354.8 525.5,352.9 525.6,353.2 525.8,354.4 525.9,354.6 526.0,354.0 526.1,353.8 526.3,353.2 526.4,355.2 526.5,355.1 526.6,354.4 526.8,353.7 526.9,354.1 527.0,352.7 527.1,354.5 527.3,354.8 527.4,353.9 527.5,352.6 527.6,353.9 527.8,354.4 527.9,354.3 528.0,356.5 528.1,356.4 528.3,354.4 528.4,355.6 528.5,353.6 528.6,354.4 528.8,353.4 528.9,353.7 529.0,354.7 529.1,353.4 529.3,355.2 529.4,353.3 529.5,354.4 529.6,353.0 529.8,354.4 529.9,355.2 530.0,353.1 530.1,353.6 530.3,353.3 530.4,354.4 530.5,353.2 530.6,355.8 530.8,354.6 530.9,356.1 531.0,353.7 531.1,355.4 531.3,354.8 531.4,354.8 531.5,355.0 531.6,354.8 531.8,354.3 531.9,355.3 532.0,355.1 532.1,355.9 532.3,355.8 532.4,356.0 532.5,355.1 532.6,356.0 532.8,355.7 532.9,353.0 533.0,354.3 533.1,353.9 533.3,353.4 533.4,355.9 533.5,355.1 533.6,354.7 533.8,353.1 533.9,354.1 534.0,353.5 534.2,354.4 534.3,355.2 534.4,354.5 534.5,355.4 534.7,353.7 534.8,354.1 534.9,355.3 535.0,354.1 535.2,355.7 535.3,353.4 535.4,355.8 535.5,354.6 535.7,354.9 535.8,356.2 535.9,354.6 536.0,356.5 536.2,356.4 536.3,355.4 536.4,353.1 536.5,356.4 536.7,355.8 536.8,355.5 536.9,354.0 537.0,354.2 537.2,353.1 537.3,354.7 537.4,354.9 537.5,353.0 537.7,354.8 537.8,355.7 537.9,355.8 538.0,355.8 538.2,354.5 538.3,355.0 538.4,356.3 538.5,354.9 538.7,356.3 538.8,353.9 538.9,354.1 539.0,353.7 539.2,353.1 539.3,354.0 539.4,356.2 539.5,356.0 539.7,353.5 539.8,354.8 539.9,353.0 540.0,356.2 540.2,353.3 540.3,356.3 540.4,353.6 540.5,355.3 540.7,354.0 540.8,356.4 540.9,355.7 541.0,354.0 541.2,355.4 541.3,356.1 541.4,354.8 541.5,353.9 541.7,354.7 541.8,356.2 541.9,352.8 542.0,356.3 542.2,354.3 542.3,354.7 542.4,354.3 542.5,353.4 542.7,354.6 542.8,356.1 542.9,354.0 543.0,355.5 543.2,354.7 543.3,355.9 543.4,355.8 543.5,354.8 543.7,355.3 543.8,355.4 543.9,353.0 544.0,354.2 544.2,355.8 544.3,356.3 544.4,356.2 544.5,355.5 544.7,353.7 544.8,353.7 544.9,354.4 545.0,355.1 545.2,353.4 545.3,354.0 545.4,354.7 545.5,354.4 545.7,353.2 545.8,354.9 545.9,353.4 546.0,353.2 546.2,356.3 546.3,354.8 546.4,353.7 546.5,355.1 546.7,355.9 546.8,354.2 546.9,353.3 547.0,355.3 547.2,353.8 547.3,353.2 547.4,354.6 547.5,353.6 547.7,354.6 547.8,354.7 547.9,354.3 548.0,354.9 548.2,353.6 548.3,354.2 548.4,354.2 548.5,353.7 548.7,355.0 548.8,354.4 548.9,353.8 549.0,353.5 549.2,354.1 549.3,355.8 549.4,354.6 549.5,356.1 549.7,355.5 549.8,355.9 549.9,356.1 550.0,355.8 550.2,355.9 550.3,353.9 550.4,354.8 550.5,355.1 550.7,355.6 550.8,353.9 550.9,355.1 551.0,354.3 551.2,355.5 551.3,356.1 551.4,353.9 551.5,354.0 551.7,353.9 551.8,353.6 551.9,354.8 552.0,355.5 552.2,353.2 552.3,354.8 552.4,353.5 552.5,356.1 552.7,356.3 552.8,355.9 552.9,353.1 553.0,354.1 553.2,354.0 553.3,353.5 553.4,352.9 553.5,354.8 553.7,356.0 553.8,353.8 553.9,353.5 554.0,354.0 554.2,355.7 554.3,353.9 554.4,354.5 554.5,353.8 554.7,354.1 554.8,353.2 554.9,355.4 555.0,355.0 555.2,356.2 555.3,354.2 555.4,354.8 555.5,353.3 555.7,355.8 555.8,354.3 555.9,353.3 556.1,354.7 556.2,354.3 556.3,353.0 556.4,353.4 556.6,356.3 556.7,354.3 556.8,355.1 556.9,354.7 557.1,355.4 557.2,352.9 557.3,354.1 557.4,355.0 557.6,354.1 557.7,355.8 557.8,353.4 557.9,353.3 558.1,354.1 558.2,355.8 558.3,354.0 558.4,356.3 558.6,356.0 558.7,354.7 558.8,355.6 558.9,354.1 559.1,354.0 559.2,354.6 559.3,355.6 559.4,352.9 559.6,353.7 559.7,353.1 559.8,355.9 559.9,356.1 560.1,356.2 560.2,354.2 560.3,353.5 560.4,355.0 560.6,352.9 560.7,353.8 560.8,355.4 560.9,353.8 561.1,354.9 561.2,355.8 561.3,356.3 561.4,356.0 561.6,355.7 561.7,354.1 561.8,355.2 561.9,355.6 562.1,354.7 562.2,356.1 562.3,354.3 562.4,355.4 562.6,354.4 562.7,354.5 562.8,353.7 562.9,355.2 563.1,353.6 563.2,356.1 563.3,352.9 563.4,355.3 563.6,356.3 563.7,355.1 563.8,353.7 563.9,355.6 564.1,355.8 564.2,353.7 564.3,353.9 564.4,354.8 564.6,353.5 564.7,353.9 564.8,356.1 564.9,355.4 565.1,354.5 565.2,355.1 565.3,355.4 565.4,354.9 565.6,355.5 565.7,353.0 565.8,353.5 565.9,354.5 566.1,353.2 566.2,355.0 566.3,354.0 566.4,354.6 566.6,355.5 566.7,355.0 566.8,354.8 566.9,356.2 567.1,354.5 567.2,355.6 567.3,353.6 567.4,356.0 567.6,354.5 567.7,355.0 567.8,353.4 567.9,355.2 568.1,353.7 568.2,356.2 568.3,355.3 568.4,355.9 568.6,355.6 568.7,354.4 568.8,353.4 568.9,356.3 569.1,355.5 569.2,353.8 569.3,355.1 569.4,356.2 569.6,354.4 569.7,355.1 569.8,353.0 569.9,355.7 570.1,354.1 570.2,354.5 570.3,353.1 570.4,353.3 570.6,354.5 570.7,355.5 570.8,354.1 570.9,356.2 571.1,354.7 571.2,354.3 571.3,354.8 571.4,354.1 571.6,355.4 571.7,354.1 571.8,355.2 571.9,353.1 572.1,354.4 572.2,355.2 572.3,354.9 572.4,356.1 572.6,354.7 572.7,356.0 572.8,355.4 572.9,354.7 573.1,353.4 573.2,355.5 573.3,353.3 573.4,354.9 573.6,355.9 573.7,354.0 573.8,355.9 573.9,355.5 574.1,353.0 574.2,354.7 574.3,353.7 574.4,354.3 574.6,355.3 574.7,355.1 574.8,355.9 574.9,356.2 575.1,355.4 575.2,356.2 575.3,353.9 575.4,353.3 575.6,354.1 575.7,354.8 575.8,354.6 575.9,354.1 576.1,355.3 576.2,354.4 576.3,353.3 576.4,353.9 576.6,355.5 576.7,354.0 576.8,355.4 576.9,354.1 577.1,355.9 577.2,353.5 577.3,354.2 577.4,354.1 577.6,354.0 577.7,355.1 577.8,356.0 578.0,353.7 578.1,353.8 578.2,355.1 578.3,353.7 578.5,354.8 578.6,354.8 578.7,354.6 578.8,354.9 579.0,354.9 579.1,353.3 579.2,356.1 579.3,355.0 579.5,354.2 579.6,354.0 579.7,355.3 579.8,354.5 580.0,355.1 580.1,353.7 580.2,354.0 580.3,356.2 580.5,355.0 580.6,353.5 580.7,354.1 580.8,353.2 581.0,353.9 581.1,355.6 581.2,355.6 581.3,353.1 581.5,355.9 581.6,355.4 581.7,354.6 581.8,354.8 582.0,355.5 582.1,354.1 582.2,353.8 582.3,354.1 582.5,353.0 582.6,354.5 582.7,356.1 582.8,353.8 583.0,354.3 583.1,355.6 583.2,354.6 583.3,356.2 583.5,354.8 583.6,354.7 583.7,353.4 583.8,355.6 584.0,355.6 584.1,355.9 584.2,353.4 584.3,354.9 584.5,354.2 584.6,353.3 584.7,353.8 584.8,355.8 585.0,355.1 585.1,355.8 585.2,356.2 585.3,355.9 585.5,354.9 585.6,353.6 585.7,355.6 585.8,355.9 586.0,354.6 586.1,355.6 586.2,354.8 586.3,355.5 586.5,354.9 586.6,354.3 586.7,353.3 586.8,353.9 587.0,355.7 587.1,355.1 587.2,355.1 587.3,355.1 587.5,354.4 587.6,353.0 587.7,354.0 587.8,353.5 588.0,356.0 588.1,353.2 588.2,355.5 588.3,354.5 588.5,354.8 588.6,353.5 588.7,353.7 588.8,355.0 589.0,356.1 589.1,353.7 589.2,354.3 589.3,353.5 589.5,355.0 589.6,353.3 589.7,354.1 589.8,353.3 590.0,355.0 590.1,354.7 590.2,354.3 590.3,354.4 590.5,354.2 590.6,355.2 590.7,356.0 590.8,355.7 591.0,353.5 591.1,355.8 591.2,353.6 591.3,353.4 591.5,356.1 591.6,355.5 591.7,354.6 591.8,353.6 592.0,354.5 592.1,355.6 592.2,355.8 592.3,355.3 592.5,354.9 592.6,353.2 592.7,354.9 592.8,354.2 593.0,353.3 593.1,355.1 593.2,355.5 593.3,356.2 593.5,354.3 593.6,353.9 593.7,354.6 593.8,354.8 594.0,356.0 594.1,354.7 594.2,353.8 594.3,355.1 594.5,353.2 594.6,355.9 594.7,354.6 594.8,354.0 595.0,355.9 595.1,353.8 595.2,354.8 595.3,355.0 595.5,354.6 595.6,353.5 595.7,354.2 595.8,354.4 596.0,353.2 596.1,355.1 596.2,354.5 596.3,354.9 596.5,354.6 596.6,353.6 596.7,355.7 596.8,353.2 597.0,353.8 597.1,355.7 597.2,355.2 597.3,355.0 597.5,355.8 597.6,355.2 597.7,354.1 597.8,355.1 598.0,354.9 598.1,354.4 598.2,353.6 598.3,354.4 598.5,355.9 598.6,354.7 598.7,355.9 598.8,355.8 599.0,355.2 599.1,355.9 599.2,355.3 599.3,355.2 599.5,355.6 599.6,353.6 599.7,354.1 599.9,355.7 600.0,353.8 600.1,355.7 600.2,355.9 600.4,353.8 600.5,355.3 600.6,355.8 600.7,355.3 600.9,354.5 601.0,353.8 601.1,353.8 601.2,353.3 601.4,353.6 601.5,353.4 601.6,355.0 601.7,354.2 601.9,355.8 602.0,355.0 602.1,354.8 602.2,353.4 602.4,353.2 602.5,354.3 602.6,354.6 602.7,354.0 602.9,354.0 603.0,355.0 603.1,353.3 603.2,354.4 603.4,353.7 603.5,354.9 603.6,354.2 603.7,354.7 603.9,354.2 604.0,353.7 604.1,356.1 604.2,355.9 604.4,355.4 604.5,353.9 604.6,354.9 604.7,353.2 604.9,355.3 605.0,355.6 605.1,354.9 605.2,354.5 605.4,353.6 605.5,353.1 605.6,355.3 605.7,355.7 605.9,354.1 606.0,354.3 606.1,353.3 606.2,355.7 606.4,353.4 606.5,354.0 606.6,354.6 606.7,353.7 606.9,354.1 607.0,353.6 607.1,354.6 607.2,355.6 607.4,354.5 607.5,355.6 607.6,353.9 607.7,353.6 607.9,353.8 608.0,355.3 608.1,353.5 608.2,355.4 608.4,354.6 608.5,354.4 608.6,353.4 608.7,354.2 608.9,354.7 609.0,356.1 609.1,356.1 609.2,353.4 609.4,353.4 609.5,354.2 609.6,354.0 609.7,354.9 609.9,354.5 610.0,353.5 610.1,355.9 610.2,354.9 610.4,353.5 610.5,354.2 610.6,354.2 610.7,355.9 610.9,354.8 611.0,355.2 611.1,355.5 611.2,354.5 611.4,355.6 611.5,353.6 611.6,354.8 611.7,354.3 611.9,355.3 612.0,355.6 612.1,353.3 612.2,354.9 612.4,354.0 612.5,354.9 612.6,354.0 612.7,353.2 612.9,354.4 613.0,354.6 613.1,355.1 613.2,356.0 613.4,354.3 613.5,355.3 613.6,355.8 613.7,353.3 613.9,353.2 614.0,355.5 614.1,353.9 614.2,353.7 614.4,355.2 614.5,354.1 614.6,356.0 614.7,355.5 614.9,354.5 615.0,354.8 615.1,355.7 615.2,354.7 615.4,354.1 615.5,355.3 615.6,355.6 615.7,356.0 615.9,354.0 616.0,355.4 616.1,354.6 616.2,355.1 616.4,354.7 616.5,353.2 616.6,353.5 616.7,354.1 616.9,354.7 617.0,354.9 617.1,353.2 617.2,356.1 617.4,354.0 617.5,353.5 617.6,354.8 617.7,355.6 617.9,355.8 618.0,353.5 618.1,354.7 618.2,354.6 618.4,353.5 618.5,353.9 618.6,355.9 618.7,355.6 618.9,353.4 619.0,353.9 619.1,354.3 619.2,353.7 619.4,353.6 619.5,355.9 619.6,355.5 619.7,353.5 619.9,355.2 620.0,354.1 620.1,355.5 620.2,355.4 620.4,355.2 620.5,353.3 620.6,353.8 620.7,354.7 620.9,354.4 621.0,355.4 621.1,355.7 621.2,354.8 621.4,354.6 621.5,353.1 621.6,355.1 621.8,353.7 621.9,354.2 622.0,355.5 622.1,354.9 622.3,355.2 622.4,354.4 622.5,356.0 622.6,354.5 622.8,353.5 622.9,354.3 623.0,355.1 623.1,354.2 623.3,355.0 623.4,354.3 623.5,353.3 623.6,354.7 623.8,353.6 623.9,355.0 624.0,353.4 624.1,355.2 624.3,353.2 624.4,355.5 624.5,355.4 624.6,354.3 624.8,354.8 624.9,355.8 625.0,355.1 625.1,355.5 625.3,356.0 625.4,355.6 625.5,353.3 625.6,354.5 625.8,354.1 625.9,356.0 626.0,355.0 626.1,354.5 626.3,354.4 626.4,353.3 626.5,354.2 626.6,353.3 626.8,354.2 626.9,355.3 627.0,355.9 627.1,353.3 627.3,355.9 627.4,355.1 627.5,354.8 627.6,354.5 627.8,353.8 627.9,354.6 628.0,353.4 628.1,354.7 628.3,354.7 628.4,353.3 628.5,353.6 628.6,354.9 628.8,354.6 628.9,353.9 629.0,355.2 629.1,354.3 629.3,355.5 629.4,353.9 629.5,353.4 629.6,354.9 629.8,356.1 629.9,354.6 630.0,353.4 630.1,353.2 630.3,354.2 630.4,353.6 630.5,354.5 630.6,355.5 630.8,354.3 630.9,354.9 631.0,353.2 631.1,353.3 631.3,353.1 631.4,353.7 631.5,353.9 631.6,354.7 631.8,354.7 631.9,353.2 632.0,353.6 632.1,355.0 632.3,355.3 632.4,354.5 632.5,355.3 632.6,353.6 632.8,353.3 632.9,355.0 633.0,353.6 633.1,354.2 633.3,354.6 633.4,356.0 633.5,354.7 633.6,355.3 633.8,355.9 633.9,355.1 634.0,356.1 634.1,353.4 634.3,355.9 634.4,354.6 634.5,353.5 634.6,355.9 634.8,355.2 634.9,354.5 635.0,355.5 635.1,354.1 635.3,355.7 635.4,355.3 635.5,353.5 635.6,353.2 635.8,355.2 635.9,353.7 636.0,355.1 636.1,355.5 636.3,355.8 636.4,353.5 636.5,354.8 636.6,354.5 636.8,353.2 636.9,353.5 637.0,353.3 637.1,353.3 637.3,355.2 637.4,354.2 637.5,353.3 637.6,354.8 637.8,353.2 637.9,354.8 638.0,353.7 638.1,353.2 638.3,354.2 638.4,353.8 638.5,353.3 638.6,353.4 638.8,353.9 638.9,353.6 639.0,353.7 639.1,355.3 639.3,354.1 639.4,355.0 639.5,355.3 639.6,354.7 639.8,353.2 639.9,355.9 640.0,354.4 640.1,355.8 640.3,353.4 640.4,354.3 640.5,353.1 640.6,354.0 640.8,355.5 640.9,353.6 641.0,355.9 641.1,355.5 641.3,354.6 641.4,355.3 641.5,354.4 641.6,354.0 641.8,354.7 641.9,355.0 642.0,355.8 642.1,355.2 642.3,354.0 642.4,355.7 642.5,355.8 642.6,355.0 642.8,355.7 642.9,355.8 643.0,354.5 643.1,353.8 643.3,355.7 643.4,353.5 643.5,355.8 643.7,355.9 643.8,353.5 643.9,355.0 644.0,353.9 644.2,354.9 644.3,355.7 644.4,354.5 644.5,353.9 644.7,354.4 644.8,355.1 644.9,353.9 645.0,353.5 645.2,354.1 645.3,353.4 645.4,354.6 645.5,354.5 645.7,353.8 645.8,355.7 645.9,354.3 646.0,354.7 646.2,355.1 646.3,353.8 646.4,355.0 646.5,353.5 646.7,354.5 646.8,353.2 646.9,355.1 647.0,355.6 647.2,354.6 647.3,355.4 647.4,355.5 647.5,353.8 647.7,355.1 647.8,354.9 647.9,353.3 648.0,355.8 648.2,354.8 648.3,353.4 648.4,354.4 648.5,355.2 648.7,355.3 648.8,354.5 648.9,353.8 649.0,353.4 649.2,355.2" fill="none" stroke="#f5e51a" stroke-width="0.9"/>
<text x="375.80" y="263.30" font-family="'Liberation Sans',Arial,sans-serif" font-size="10.4" fill="#111" stroke="#111" stroke-width="0.35" text-anchor="end" textLength="14.700000000000001" lengthAdjust="spacingAndGlyphs" >150</text>
<text x="375.80" y="295.53" font-family="'Liberation Sans',Arial,sans-serif" font-size="10.4" fill="#111" stroke="#111" stroke-width="0.35" text-anchor="end" textLength="14.700000000000001" lengthAdjust="spacingAndGlyphs" >100</text>
<text x="375.80" y="327.77" font-family="'Liberation Sans',Arial,sans-serif" font-size="10.4" fill="#111" stroke="#111" stroke-width="0.35" text-anchor="end" textLength="9.8" lengthAdjust="spacingAndGlyphs" >50</text>
<text x="375.80" y="360.00" font-family="'Liberation Sans',Arial,sans-serif" font-size="10.4" fill="#111" stroke="#111" stroke-width="0.35" text-anchor="end" textLength="4.9" lengthAdjust="spacingAndGlyphs" >0</text>
<text x="375.80" y="392.23" font-family="'Liberation Sans',Arial,sans-serif" font-size="10.4" fill="#111" stroke="#111" stroke-width="0.35" text-anchor="end" textLength="15.3" lengthAdjust="spacingAndGlyphs" >−50</text>
<text x="375.80" y="424.47" font-family="'Liberation Sans',Arial,sans-serif" font-size="10.4" fill="#111" stroke="#111" stroke-width="0.35" text-anchor="end" textLength="20.200000000000003" lengthAdjust="spacingAndGlyphs" >−100</text>
<text x="375.80" y="456.70" font-family="'Liberation Sans',Arial,sans-serif" font-size="10.4" fill="#111" stroke="#111" stroke-width="0.35" text-anchor="end" textLength="20.200000000000003" lengthAdjust="spacingAndGlyphs" >−150</text>
<text x="380.60" y="373.90" font-family="'Liberation Sans',Arial,sans-serif" font-size="10.4" fill="#111" stroke="#111" stroke-width="0.35" text-anchor="middle" textLength="4.9" lengthAdjust="spacingAndGlyphs" >0</text>
<text x="422.31" y="373.90" font-family="'Liberation Sans',Arial,sans-serif" font-size="10.4" fill="#111" stroke="#111" stroke-width="0.35" text-anchor="middle" textLength="9.8" lengthAdjust="spacingAndGlyphs" >50</text>
<text x="464.03" y="373.90" font-family="'Liberation Sans',Arial,sans-serif" font-size="10.4" fill="#111" stroke="#111" stroke-width="0.35" text-anchor="middle" textLength="14.700000000000001" lengthAdjust="spacingAndGlyphs" >100</text>
<text x="505.74" y="373.90" font-family="'Liberation Sans',Arial,sans-serif" font-size="10.4" fill="#111" stroke="#111" stroke-width="0.35" text-anchor="middle" textLength="14.700000000000001" lengthAdjust="spacingAndGlyphs" >150</text>
<text x="547.46" y="373.90" font-family="'Liberation Sans',Arial,sans-serif" font-size="10.4" fill="#111" stroke="#111" stroke-width="0.35" text-anchor="middle" textLength="14.700000000000001" lengthAdjust="spacingAndGlyphs" >200</text>
<text x="589.17" y="373.90" font-family="'Liberation Sans',Arial,sans-serif" font-size="10.4" fill="#111" stroke="#111" stroke-width="0.35" text-anchor="middle" textLength="14.700000000000001" lengthAdjust="spacingAndGlyphs" >250</text>
<text x="630.89" y="373.90" font-family="'Liberation Sans',Arial,sans-serif" font-size="10.4" fill="#111" stroke="#111" stroke-width="0.35" text-anchor="middle" textLength="14.700000000000001" lengthAdjust="spacingAndGlyphs" >300</text>
<text x="672.60" y="373.90" font-family="'Liberation Sans',Arial,sans-serif" font-size="10.4" fill="#111" stroke="#111" stroke-width="0.35" text-anchor="middle" textLength="14.700000000000001" lengthAdjust="spacingAndGlyphs" >350</text>
<text x="354.20" y="357.00" font-family="'Liberation Serif','Times New Roman',serif" font-size="12.2" fill="#000" stroke="#000" stroke-width="0.3" font-weight="bold" text-anchor="middle" transform="rotate(-90 354.20 357.00)" >Acc (Gal)</text>
<text x="504.00" y="469.40" font-family="'Liberation Serif','Times New Roman',serif" font-size="12.6" fill="#000" stroke="#000" stroke-width="0.3" font-weight="bold" textLength="42" lengthAdjust="spacingAndGlyphs" >Time (s)</text>
<rect x="553" y="264" width="110.4" height="54.6" fill="#fff" stroke="#111" stroke-width="1"/>
<line x1="560" y1="273.0" x2="582" y2="273.0" stroke="#2e2e9a" stroke-width="1.8"/>
<text x="586.00" y="276.80" font-family="'Liberation Serif','Times New Roman',serif" font-size="12" fill="#000" stroke="#000" stroke-width="0.3" font-weight="bold" textLength="70" lengthAdjust="spacingAndGlyphs" >EW-Acc (Gal)</text>
<line x1="560" y1="289.2" x2="582" y2="289.2" stroke="#cc3fa0" stroke-width="1.8"/>
<text x="586.00" y="293.00" font-family="'Liberation Serif','Times New Roman',serif" font-size="12" fill="#000" stroke="#000" stroke-width="0.3" font-weight="bold" textLength="67" lengthAdjust="spacingAndGlyphs" >UP-Acc (Gal)</text>
<line x1="560" y1="305.4" x2="582" y2="305.4" stroke="#f5c400" stroke-width="1.8"/>
<text x="586.00" y="309.20" font-family="'Liberation Serif','Times New Roman',serif" font-size="12" fill="#000" stroke="#000" stroke-width="0.3" font-weight="bold" textLength="67" lengthAdjust="spacingAndGlyphs" >NS-Acc (Gal)</text>
<defs><clipPath id="pc"><rect x="4.3" y="252" width="320.3" height="237.3"/></clipPath><filter id="bl" x="-5%" y="-5%" width="110%" height="110%"><feGaussianBlur stdDeviation="1.3"/></filter><filter id="bl3" x="-20%" y="-20%" width="140%" height="140%"><feGaussianBlur stdDeviation="3.5"/></filter><linearGradient id="gsky" gradientUnits="userSpaceOnUse" x1="0" y1="254" x2="0" y2="282"><stop offset="0" stop-color="#fdfdfe"/><stop offset="0.5" stop-color="#f0f0f4"/><stop offset="1" stop-color="#d4d4dc"/></linearGradient><linearGradient id="gml" gradientUnits="userSpaceOnUse" x1="0" y1="256" x2="0" y2="351"><stop offset="0" stop-color="#80839a"/><stop offset="0.3" stop-color="#6c7682"/><stop offset="0.62" stop-color="#63746e"/><stop offset="1" stop-color="#566e58"/></linearGradient><linearGradient id="gmr" gradientUnits="userSpaceOnUse" x1="0" y1="276" x2="0" y2="350"><stop offset="0" stop-color="#7e8198"/><stop offset="0.4" stop-color="#606872"/><stop offset="1" stop-color="#4c624e"/></linearGradient><linearGradient id="gdeb" gradientUnits="userSpaceOnUse" x1="0" y1="340" x2="0" y2="460"><stop offset="0" stop-color="#a79588"/><stop offset="0.5" stop-color="#a19084"/><stop offset="1" stop-color="#9a8c82"/></linearGradient></defs>
<g clip-path="url(#pc)">
<rect x="4" y="251" width="322" height="240" fill="url(#gsky)"/>
<g filter="url(#bl)">
<path d="M0,300 L236,297 L244,283 L250,281 L262,281 L268,287 L330,300 L330,470 L0,470 Z" fill="url(#gdeb)" />
<path d="M0,256.2 L79.4,256.2 L88,262.4 L104,264.4 L116.6,265.4 L134,267.4 L153,267.4 L175,271 L189.5,267.4 L200.4,264.8 L211.4,266.3 L222,270 L233.3,274.7 L242.4,276.5 L245,280 L238,292 L234.4,299.6 L217,303 L209.6,319.5 L189.8,331.9 L170,332 L161,334.4 L151.4,336.8 L150,350.5 L0,350.5 Z" fill="url(#gml)" />
<path d="M245,280 L249,278 L251.5,276.5 L266,275.8 L284,276.5 L306,277.2 L321,278.3 L330,279 L330,350 L254,349 L280,344 L295,340 L293,335 L285,320 L280,310 L275,300 L268,285 L262,279 Z" fill="url(#gmr)" />
<linearGradient id="gscar" gradientUnits="userSpaceOnUse" x1="0" y1="279" x2="0" y2="350"><stop offset="0" stop-color="#868290"/><stop offset="0.3" stop-color="#98888a"/><stop offset="0.6" stop-color="#a28c84"/><stop offset="1" stop-color="#a69084"/></linearGradient>
<path d="M244,281 L250,279 L262,279 L268,285 L275,300 L280,310 L285,320 L293,335 L295,340 L285,343 L270,346 L246,349 L215,349 L180,344 L160,340 L160,336 L190,330 L205,325 L210,320 L213,310 L220,305 L236,297 Z" fill="url(#gscar)" />
<ellipse cx="186" cy="384" rx="12" ry="4" fill="#8e9c88" opacity="0.85"/>
<path d="M238,333 L246,331 L249,338 L244,344 L238,341 Z" fill="#5a6a52" />
<path d="M254,284 L261,282 L268,290 L274,302 L278,311 L272,314 L264,306 L258,296 Z" fill="#a89a94" opacity="0.6"/>
<path d="M248.5,283 L253,282 L257,295 L260,305 L256,309 L252,300 Z" fill="#7d7b82" opacity="0.7"/>
<path d="M272,331 L280,330 L284,338 L278,344 L271,340 Z" fill="#566a50" opacity="0.8"/>
<path d="M245.5,348.5 L270,347 L300,346 L330,346 L330,421 L300,420 L270,419.5 L250,421.7 L241,415 L234.3,397.4 L247.8,370.5 Z" fill="#4b6145" />
<path d="M248,420 L270,419 L307,421 L312,430 L290,433 L255,432 L246,427 Z" fill="#80ac4e" />
<path d="M307,421 L330,419.5 L330,432 L312,431 Z" fill="#8a8a7c" />
<path d="M247,371.5 L256,371 L262,374 L250,375.5 Z" fill="#d8d8d8" />
<path d="M160,437 L213,437 L218,445 L212,458 L190,462 L165,463 L150,460 L150,445 Z" fill="#9c999b" />
<path d="M150,433.5 L200,434 L240,434.5 L246,436 L240,438.5 L200,438.5 L150,438 Z" fill="#c2c1c6" />
<path d="M284,434.5 L324,432 L330,431.5 L330,437.5 L290,438.5 L282,437 Z" fill="#c2c1c6" />
<path d="M238,431 L260,431 L286,432 L290,441 L260,443 L238,441 Z" fill="#4a6a3e" />
<path d="M0,454 L20,456 L30,459 L29,474 L0,472 Z" fill="#908e92" />
<path d="M0,470 L29,474 L58,473.5 L96,469.5 L130,466 L165,462 L165,466 L130,469.5 L96,473 L58,477 L29,479 L20,495 L0,495 Z" fill="#8e939c" />
<path d="M29,472 L50,467 L72,463 L111,459 L150,452 L165,455 L150,465 L111,469 L72,473.5 L29,476 Z" fill="#6c9e42" />
<path d="M111,449 L130,446 L150,444 L165,447 L165,456 L140,462 L111,463 Z" fill="#4f6e3e" />
<path d="M20,495 L29,479 L58,477 L96,473 L130,469.5 L165,466 L190,463 L212,459 L230,452 L250,442 L290,440 L330,438 L330,495 Z" fill="#68984a" />
<path d="M120,476 L165,470 L190,468 L200,489 L120,489 Z" fill="#94a058" />
<path d="M213,438 L250,440 L290,439 L330,437.5 L330,447 L300,452 L285,458 L300,468 L330,466 L330,495 L270,495 L258,480 L250,466 L235,458 L218,452 Z" fill="#46673a" />
<path d="M283,444 L310,441 L330,443 L330,456 L305,458 L288,454 Z" fill="#70a050" />
<path d="M240,470 L262,466 L276,476 L262,484 L248,480 Z" fill="#6f9a48" />
<path d="M211,460 L226,458 L238,468 L246,478 L244,485 L230,484 L218,472 Z" fill="#8a6f60" />
</g>
<filter id="nz" x="0" y="0" width="100%" height="100%" color-interpolation-filters="sRGB"><feTurbulence type="fractalNoise" baseFrequency="0.09 0.16" numOctaves="3" seed="5"/><feColorMatrix type="matrix" values="1 0 0 0 0  1 0 0 0 0  1 0 0 0 0  0 0 0 0 1"/></filter>
<rect x="4.3" y="252" width="320.3" height="238" filter="url(#nz)" style="mix-blend-mode:overlay" opacity="0.15"/>
<g filter="url(#bl3)" opacity="0.75"><ellipse cx="300" cy="276" rx="26" ry="5" fill="#dcdce0"/><ellipse cx="250" cy="280" rx="8" ry="4" fill="#e4e4e8"/><ellipse cx="202" cy="262" rx="8" ry="3" fill="#d8d8de"/></g>
</g>
<rect x="6.5" y="238" width="35" height="29.5" fill="#fff" stroke="#444" stroke-width="1"/>
<text x="24.60" y="259.80" font-family="'Liberation Serif','Times New Roman',serif" font-size="20" fill="#000" stroke="#000" stroke-width="0.3" text-anchor="middle" textLength="15.8" lengthAdjust="spacingAndGlyphs" >B</text></svg>
</body></html>
